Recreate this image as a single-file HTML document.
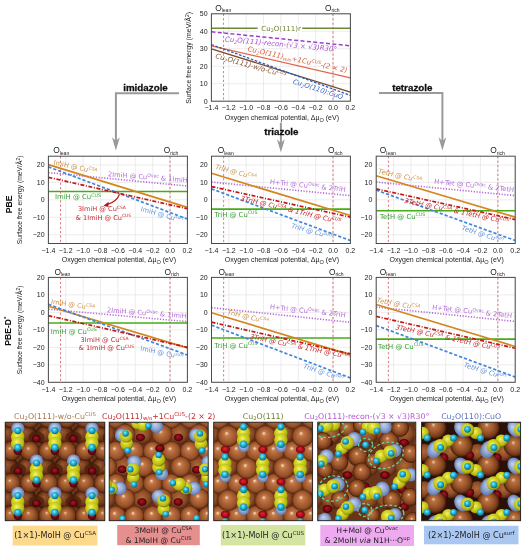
<!DOCTYPE html><html><head><meta charset="utf-8"><style>html,body{margin:0;padding:0;background:#fff;width:525px;height:550px;overflow:hidden}svg{display:block}</style></head><body>
<svg width="525" height="550" viewBox="0 0 525 550">

<defs>
<radialGradient id="gCu" cx="0.5" cy="0.5" r="0.5" fx="0.42" fy="0.36">
 <stop offset="0" stop-color="#f8e2cc"/>
 <stop offset="0.09" stop-color="#e6b890"/>
 <stop offset="0.2" stop-color="#c47c4a"/>
 <stop offset="0.42" stop-color="#b4683c"/>
 <stop offset="0.78" stop-color="#965228"/>
 <stop offset="0.93" stop-color="#703618"/>
 <stop offset="1" stop-color="#4a200e"/>
</radialGradient>
<radialGradient id="gCuD" cx="0.5" cy="0.5" r="0.5" fx="0.42" fy="0.36">
 <stop offset="0" stop-color="#f2d6bc"/>
 <stop offset="0.08" stop-color="#d8a47c"/>
 <stop offset="0.2" stop-color="#b8703e"/>
 <stop offset="0.5" stop-color="#a05a2e"/>
 <stop offset="0.82" stop-color="#783c1a"/>
 <stop offset="1" stop-color="#40180a"/>
</radialGradient>
<radialGradient id="gCu3" cx="0.5" cy="0.5" r="0.5" fx="0.42" fy="0.36">
 <stop offset="0" stop-color="#9a5a30"/>
 <stop offset="0.6" stop-color="#6e3418"/>
 <stop offset="1" stop-color="#2e1206"/>
</radialGradient>
<radialGradient id="gOb" cx="0.5" cy="0.5" r="0.5" fx="0.42" fy="0.35">
 <stop offset="0" stop-color="#e02838"/>
 <stop offset="0.55" stop-color="#b80e1c"/>
 <stop offset="1" stop-color="#6a040c"/>
</radialGradient>
<radialGradient id="gO" cx="0.5" cy="0.5" r="0.5" fx="0.42" fy="0.35">
 <stop offset="0" stop-color="#b41424"/>
 <stop offset="0.5" stop-color="#860a16"/>
 <stop offset="1" stop-color="#3a0206"/>
</radialGradient>
<radialGradient id="gY" cx="0.42" cy="0.38" r="0.62">
 <stop offset="0" stop-color="#f4f47a"/>
 <stop offset="0.3" stop-color="#dcdc2c"/>
 <stop offset="0.8" stop-color="#b4b414"/>
 <stop offset="1" stop-color="#7a7a0a"/>
</radialGradient>
<radialGradient id="gC" cx="0.42" cy="0.38" r="0.62">
 <stop offset="0" stop-color="#90ecfa"/>
 <stop offset="0.4" stop-color="#26bce0"/>
 <stop offset="1" stop-color="#0a6a8a"/>
</radialGradient>
<radialGradient id="gB" cx="0.5" cy="0.5" r="0.5" fx="0.4" fy="0.33">
 <stop offset="0" stop-color="#c4d2ee"/>
 <stop offset="0.55" stop-color="#96acd8"/>
 <stop offset="1" stop-color="#6078a8"/>
</radialGradient>
<radialGradient id="gCu2" cx="0.45" cy="0.42" r="0.6">
 <stop offset="0" stop-color="#b06a3a"/>
 <stop offset="0.6" stop-color="#8a4a24"/>
 <stop offset="1" stop-color="#4a2210"/>
</radialGradient>
</defs>
<rect width="525" height="550" fill="#fff"/>
<line x1="211.40" y1="13.80" x2="211.40" y2="101.20" stroke="#e4e4e4" stroke-width="0.7"/>
<line x1="228.78" y1="13.80" x2="228.78" y2="101.20" stroke="#e4e4e4" stroke-width="0.7"/>
<line x1="246.15" y1="13.80" x2="246.15" y2="101.20" stroke="#e4e4e4" stroke-width="0.7"/>
<line x1="263.52" y1="13.80" x2="263.52" y2="101.20" stroke="#e4e4e4" stroke-width="0.7"/>
<line x1="280.90" y1="13.80" x2="280.90" y2="101.20" stroke="#e4e4e4" stroke-width="0.7"/>
<line x1="298.27" y1="13.80" x2="298.27" y2="101.20" stroke="#e4e4e4" stroke-width="0.7"/>
<line x1="315.65" y1="13.80" x2="315.65" y2="101.20" stroke="#e4e4e4" stroke-width="0.7"/>
<line x1="333.02" y1="13.80" x2="333.02" y2="101.20" stroke="#e4e4e4" stroke-width="0.7"/>
<line x1="350.40" y1="13.80" x2="350.40" y2="101.20" stroke="#e4e4e4" stroke-width="0.7"/>
<line x1="211.40" y1="101.20" x2="350.40" y2="101.20" stroke="#e4e4e4" stroke-width="0.7"/>
<line x1="211.40" y1="83.72" x2="350.40" y2="83.72" stroke="#e4e4e4" stroke-width="0.7"/>
<line x1="211.40" y1="66.24" x2="350.40" y2="66.24" stroke="#e4e4e4" stroke-width="0.7"/>
<line x1="211.40" y1="48.76" x2="350.40" y2="48.76" stroke="#e4e4e4" stroke-width="0.7"/>
<line x1="211.40" y1="31.28" x2="350.40" y2="31.28" stroke="#e4e4e4" stroke-width="0.7"/>
<line x1="211.40" y1="13.80" x2="350.40" y2="13.80" stroke="#e4e4e4" stroke-width="0.7"/>
<line x1="223.56" y1="13.80" x2="223.56" y2="101.20" stroke="#d4505a" stroke-width="0.8" stroke-dasharray="2.2 2.2"/>
<line x1="333.02" y1="13.80" x2="333.02" y2="101.20" stroke="#d4505a" stroke-width="0.8" stroke-dasharray="2.2 2.2"/>
<line x1="211.40" y1="28.31" x2="350.40" y2="28.31" stroke="#6e8a34" stroke-width="1.6" stroke-linecap="butt"/>
<rect x="257.6" y="24" width="44.6" height="8" fill="#fff"/>
<line x1="211.40" y1="31.80" x2="350.40" y2="45.79" stroke="#9a3ed0" stroke-width="1.5" stroke-dasharray="4 2.4" stroke-linecap="butt"/>
<line x1="211.40" y1="45.79" x2="350.40" y2="77.78" stroke="#e0684a" stroke-width="1.3" stroke-linecap="butt"/>
<line x1="211.40" y1="48.93" x2="350.40" y2="92.11" stroke="#7a4a2a" stroke-width="1.3" stroke-linecap="butt"/>
<line x1="211.40" y1="44.56" x2="350.40" y2="95.43" stroke="#2a5ec0" stroke-width="1.3" stroke-dasharray="2.6 1.6" stroke-linecap="butt"/>
<rect x="211.40" y="13.80" width="139.00" height="87.40" fill="none" stroke="#4a4a4a" stroke-width="1"/>
<text x="211.40" y="110.40" text-anchor="middle" style="font-family:'Liberation Sans',Arial,sans-serif;font-size:7px" fill="#222">−1.4</text>
<text x="228.78" y="110.40" text-anchor="middle" style="font-family:'Liberation Sans',Arial,sans-serif;font-size:7px" fill="#222">−1.2</text>
<text x="246.15" y="110.40" text-anchor="middle" style="font-family:'Liberation Sans',Arial,sans-serif;font-size:7px" fill="#222">−1.0</text>
<text x="263.52" y="110.40" text-anchor="middle" style="font-family:'Liberation Sans',Arial,sans-serif;font-size:7px" fill="#222">−0.8</text>
<text x="280.90" y="110.40" text-anchor="middle" style="font-family:'Liberation Sans',Arial,sans-serif;font-size:7px" fill="#222">−0.6</text>
<text x="298.27" y="110.40" text-anchor="middle" style="font-family:'Liberation Sans',Arial,sans-serif;font-size:7px" fill="#222">−0.4</text>
<text x="315.65" y="110.40" text-anchor="middle" style="font-family:'Liberation Sans',Arial,sans-serif;font-size:7px" fill="#222">−0.2</text>
<text x="333.02" y="110.40" text-anchor="middle" style="font-family:'Liberation Sans',Arial,sans-serif;font-size:7px" fill="#222">0.0</text>
<text x="350.40" y="110.40" text-anchor="middle" style="font-family:'Liberation Sans',Arial,sans-serif;font-size:7px" fill="#222">0.2</text>
<text x="207.60" y="103.70" text-anchor="end" style="font-family:'Liberation Sans',Arial,sans-serif;font-size:7px" fill="#222">0</text>
<text x="207.60" y="86.22" text-anchor="end" style="font-family:'Liberation Sans',Arial,sans-serif;font-size:7px" fill="#222">10</text>
<text x="207.60" y="68.74" text-anchor="end" style="font-family:'Liberation Sans',Arial,sans-serif;font-size:7px" fill="#222">20</text>
<text x="207.60" y="51.26" text-anchor="end" style="font-family:'Liberation Sans',Arial,sans-serif;font-size:7px" fill="#222">30</text>
<text x="207.60" y="33.78" text-anchor="end" style="font-family:'Liberation Sans',Arial,sans-serif;font-size:7px" fill="#222">40</text>
<text x="207.60" y="16.30" text-anchor="end" style="font-family:'Liberation Sans',Arial,sans-serif;font-size:7px" fill="#222">50</text>
<text x="281.90" y="119.70" text-anchor="middle" style="font-family:'Liberation Sans',Arial,sans-serif;font-size:7px" fill="#222">Oxygen chemical potential, Δμ<tspan dy="2.2" style="font-size:5.6px">O</tspan><tspan dy="-2.2"> (eV)</tspan></text>
<text x="215.21" y="11.00" style="font-family:'Liberation Sans',Arial,sans-serif;font-size:8.4px" fill="#222">O<tspan dy="1.2" style="font-size:5px">lean</tspan></text>
<text x="324.97" y="11.00" style="font-family:'Liberation Sans',Arial,sans-serif;font-size:8.4px" fill="#222">O<tspan dy="1.2" style="font-size:5px">rich</tspan></text>
<text transform="translate(191.10,57.90) rotate(-90)" text-anchor="middle" style="font-family:'Liberation Sans',Arial,sans-serif;font-size:7.0px" fill="#222">Surface free energy (meV/Å<tspan dy="-2.5" style="font-size:5px">2</tspan><tspan dy="2.5">)</tspan></text>
<line x1="48.40" y1="156.20" x2="48.40" y2="243.50" stroke="#e4e4e4" stroke-width="0.7"/>
<line x1="65.77" y1="156.20" x2="65.77" y2="243.50" stroke="#e4e4e4" stroke-width="0.7"/>
<line x1="83.15" y1="156.20" x2="83.15" y2="243.50" stroke="#e4e4e4" stroke-width="0.7"/>
<line x1="100.52" y1="156.20" x2="100.52" y2="243.50" stroke="#e4e4e4" stroke-width="0.7"/>
<line x1="117.90" y1="156.20" x2="117.90" y2="243.50" stroke="#e4e4e4" stroke-width="0.7"/>
<line x1="135.28" y1="156.20" x2="135.28" y2="243.50" stroke="#e4e4e4" stroke-width="0.7"/>
<line x1="152.65" y1="156.20" x2="152.65" y2="243.50" stroke="#e4e4e4" stroke-width="0.7"/>
<line x1="170.03" y1="156.20" x2="170.03" y2="243.50" stroke="#e4e4e4" stroke-width="0.7"/>
<line x1="187.40" y1="156.20" x2="187.40" y2="243.50" stroke="#e4e4e4" stroke-width="0.7"/>
<line x1="48.40" y1="234.77" x2="187.40" y2="234.77" stroke="#e4e4e4" stroke-width="0.7"/>
<line x1="48.40" y1="217.31" x2="187.40" y2="217.31" stroke="#e4e4e4" stroke-width="0.7"/>
<line x1="48.40" y1="199.85" x2="187.40" y2="199.85" stroke="#e4e4e4" stroke-width="0.7"/>
<line x1="48.40" y1="182.39" x2="187.40" y2="182.39" stroke="#e4e4e4" stroke-width="0.7"/>
<line x1="48.40" y1="164.93" x2="187.40" y2="164.93" stroke="#e4e4e4" stroke-width="0.7"/>
<line x1="60.56" y1="156.20" x2="60.56" y2="243.50" stroke="#d4505a" stroke-width="0.8" stroke-dasharray="2.2 2.2"/>
<line x1="170.03" y1="156.20" x2="170.03" y2="243.50" stroke="#d4505a" stroke-width="0.8" stroke-dasharray="2.2 2.2"/>
<line x1="48.40" y1="191.47" x2="187.40" y2="191.47" stroke="#44ac14" stroke-width="1.6" stroke-linecap="butt"/>
<line x1="48.40" y1="172.61" x2="187.40" y2="186.06" stroke="#b566dd" stroke-width="1.6" stroke-dasharray="1.2 1.6" stroke-linecap="butt"/>
<line x1="48.40" y1="164.58" x2="187.40" y2="207.36" stroke="#d4861e" stroke-width="1.7" stroke-linecap="butt"/>
<line x1="48.40" y1="166.85" x2="187.40" y2="219.06" stroke="#3f86dd" stroke-width="1.7" stroke-dasharray="3.2 2" stroke-linecap="butt"/>
<line x1="48.40" y1="177.33" x2="187.40" y2="208.75" stroke="#c41616" stroke-width="1.7" stroke-dasharray="4 1.6 1 1.6" stroke-linecap="butt"/>
<rect x="48.40" y="156.20" width="139.00" height="87.30" fill="none" stroke="#4a4a4a" stroke-width="1"/>
<text x="48.40" y="252.70" text-anchor="middle" style="font-family:'Liberation Sans',Arial,sans-serif;font-size:7px" fill="#222">−1.4</text>
<text x="65.77" y="252.70" text-anchor="middle" style="font-family:'Liberation Sans',Arial,sans-serif;font-size:7px" fill="#222">−1.2</text>
<text x="83.15" y="252.70" text-anchor="middle" style="font-family:'Liberation Sans',Arial,sans-serif;font-size:7px" fill="#222">−1.0</text>
<text x="100.52" y="252.70" text-anchor="middle" style="font-family:'Liberation Sans',Arial,sans-serif;font-size:7px" fill="#222">−0.8</text>
<text x="117.90" y="252.70" text-anchor="middle" style="font-family:'Liberation Sans',Arial,sans-serif;font-size:7px" fill="#222">−0.6</text>
<text x="135.28" y="252.70" text-anchor="middle" style="font-family:'Liberation Sans',Arial,sans-serif;font-size:7px" fill="#222">−0.4</text>
<text x="152.65" y="252.70" text-anchor="middle" style="font-family:'Liberation Sans',Arial,sans-serif;font-size:7px" fill="#222">−0.2</text>
<text x="170.03" y="252.70" text-anchor="middle" style="font-family:'Liberation Sans',Arial,sans-serif;font-size:7px" fill="#222">0.0</text>
<text x="187.40" y="252.70" text-anchor="middle" style="font-family:'Liberation Sans',Arial,sans-serif;font-size:7px" fill="#222">0.2</text>
<text x="44.60" y="237.27" text-anchor="end" style="font-family:'Liberation Sans',Arial,sans-serif;font-size:7px" fill="#222">−20</text>
<text x="44.60" y="219.81" text-anchor="end" style="font-family:'Liberation Sans',Arial,sans-serif;font-size:7px" fill="#222">−10</text>
<text x="44.60" y="202.35" text-anchor="end" style="font-family:'Liberation Sans',Arial,sans-serif;font-size:7px" fill="#222">0</text>
<text x="44.60" y="184.89" text-anchor="end" style="font-family:'Liberation Sans',Arial,sans-serif;font-size:7px" fill="#222">10</text>
<text x="44.60" y="167.43" text-anchor="end" style="font-family:'Liberation Sans',Arial,sans-serif;font-size:7px" fill="#222">20</text>
<text x="118.90" y="262.00" text-anchor="middle" style="font-family:'Liberation Sans',Arial,sans-serif;font-size:7px" fill="#222">Oxygen chemical potential, Δμ<tspan dy="2.2" style="font-size:5.6px">O</tspan><tspan dy="-2.2"> (eV)</tspan></text>
<text x="53.21" y="153.40" style="font-family:'Liberation Sans',Arial,sans-serif;font-size:8.4px" fill="#222">O<tspan dy="1.2" style="font-size:5px">lean</tspan></text>
<text x="163.68" y="153.40" style="font-family:'Liberation Sans',Arial,sans-serif;font-size:8.4px" fill="#222">O<tspan dy="1.2" style="font-size:5px">rich</tspan></text>
<line x1="211.50" y1="156.20" x2="211.50" y2="243.50" stroke="#e4e4e4" stroke-width="0.7"/>
<line x1="228.86" y1="156.20" x2="228.86" y2="243.50" stroke="#e4e4e4" stroke-width="0.7"/>
<line x1="246.22" y1="156.20" x2="246.22" y2="243.50" stroke="#e4e4e4" stroke-width="0.7"/>
<line x1="263.59" y1="156.20" x2="263.59" y2="243.50" stroke="#e4e4e4" stroke-width="0.7"/>
<line x1="280.95" y1="156.20" x2="280.95" y2="243.50" stroke="#e4e4e4" stroke-width="0.7"/>
<line x1="298.31" y1="156.20" x2="298.31" y2="243.50" stroke="#e4e4e4" stroke-width="0.7"/>
<line x1="315.67" y1="156.20" x2="315.67" y2="243.50" stroke="#e4e4e4" stroke-width="0.7"/>
<line x1="333.04" y1="156.20" x2="333.04" y2="243.50" stroke="#e4e4e4" stroke-width="0.7"/>
<line x1="350.40" y1="156.20" x2="350.40" y2="243.50" stroke="#e4e4e4" stroke-width="0.7"/>
<line x1="211.50" y1="234.77" x2="350.40" y2="234.77" stroke="#e4e4e4" stroke-width="0.7"/>
<line x1="211.50" y1="217.31" x2="350.40" y2="217.31" stroke="#e4e4e4" stroke-width="0.7"/>
<line x1="211.50" y1="199.85" x2="350.40" y2="199.85" stroke="#e4e4e4" stroke-width="0.7"/>
<line x1="211.50" y1="182.39" x2="350.40" y2="182.39" stroke="#e4e4e4" stroke-width="0.7"/>
<line x1="211.50" y1="164.93" x2="350.40" y2="164.93" stroke="#e4e4e4" stroke-width="0.7"/>
<line x1="223.65" y1="156.20" x2="223.65" y2="243.50" stroke="#d4505a" stroke-width="0.8" stroke-dasharray="2.2 2.2"/>
<line x1="333.04" y1="156.20" x2="333.04" y2="243.50" stroke="#d4505a" stroke-width="0.8" stroke-dasharray="2.2 2.2"/>
<line x1="211.50" y1="209.10" x2="350.40" y2="209.10" stroke="#44ac14" stroke-width="1.6" stroke-linecap="butt"/>
<line x1="211.50" y1="182.04" x2="350.40" y2="195.66" stroke="#b566dd" stroke-width="1.6" stroke-dasharray="1.2 1.6" stroke-linecap="butt"/>
<line x1="211.50" y1="173.31" x2="350.40" y2="215.56" stroke="#d4861e" stroke-width="1.7" stroke-linecap="butt"/>
<line x1="211.50" y1="188.85" x2="350.40" y2="240.53" stroke="#3f86dd" stroke-width="1.7" stroke-dasharray="3.2 2" stroke-linecap="butt"/>
<line x1="211.50" y1="186.58" x2="350.40" y2="217.14" stroke="#c41616" stroke-width="1.7" stroke-dasharray="4 1.6 1 1.6" stroke-linecap="butt"/>
<rect x="211.50" y="156.20" width="138.90" height="87.30" fill="none" stroke="#4a4a4a" stroke-width="1"/>
<text x="211.50" y="252.70" text-anchor="middle" style="font-family:'Liberation Sans',Arial,sans-serif;font-size:7px" fill="#222">−1.4</text>
<text x="228.86" y="252.70" text-anchor="middle" style="font-family:'Liberation Sans',Arial,sans-serif;font-size:7px" fill="#222">−1.2</text>
<text x="246.22" y="252.70" text-anchor="middle" style="font-family:'Liberation Sans',Arial,sans-serif;font-size:7px" fill="#222">−1.0</text>
<text x="263.59" y="252.70" text-anchor="middle" style="font-family:'Liberation Sans',Arial,sans-serif;font-size:7px" fill="#222">−0.8</text>
<text x="280.95" y="252.70" text-anchor="middle" style="font-family:'Liberation Sans',Arial,sans-serif;font-size:7px" fill="#222">−0.6</text>
<text x="298.31" y="252.70" text-anchor="middle" style="font-family:'Liberation Sans',Arial,sans-serif;font-size:7px" fill="#222">−0.4</text>
<text x="315.67" y="252.70" text-anchor="middle" style="font-family:'Liberation Sans',Arial,sans-serif;font-size:7px" fill="#222">−0.2</text>
<text x="333.04" y="252.70" text-anchor="middle" style="font-family:'Liberation Sans',Arial,sans-serif;font-size:7px" fill="#222">0.0</text>
<text x="350.40" y="252.70" text-anchor="middle" style="font-family:'Liberation Sans',Arial,sans-serif;font-size:7px" fill="#222">0.2</text>
<text x="207.70" y="237.27" text-anchor="end" style="font-family:'Liberation Sans',Arial,sans-serif;font-size:7px" fill="#222">−20</text>
<text x="207.70" y="219.81" text-anchor="end" style="font-family:'Liberation Sans',Arial,sans-serif;font-size:7px" fill="#222">−10</text>
<text x="207.70" y="202.35" text-anchor="end" style="font-family:'Liberation Sans',Arial,sans-serif;font-size:7px" fill="#222">0</text>
<text x="207.70" y="184.89" text-anchor="end" style="font-family:'Liberation Sans',Arial,sans-serif;font-size:7px" fill="#222">10</text>
<text x="207.70" y="167.43" text-anchor="end" style="font-family:'Liberation Sans',Arial,sans-serif;font-size:7px" fill="#222">20</text>
<text x="281.95" y="262.00" text-anchor="middle" style="font-family:'Liberation Sans',Arial,sans-serif;font-size:7px" fill="#222">Oxygen chemical potential, Δμ<tspan dy="2.2" style="font-size:5.6px">O</tspan><tspan dy="-2.2"> (eV)</tspan></text>
<text x="217.70" y="153.40" style="font-family:'Liberation Sans',Arial,sans-serif;font-size:8.4px" fill="#222">O<tspan dy="1.2" style="font-size:5px">lean</tspan></text>
<text x="327.89" y="153.40" style="font-family:'Liberation Sans',Arial,sans-serif;font-size:8.4px" fill="#222">O<tspan dy="1.2" style="font-size:5px">rich</tspan></text>
<line x1="376.20" y1="156.20" x2="376.20" y2="243.50" stroke="#e4e4e4" stroke-width="0.7"/>
<line x1="393.57" y1="156.20" x2="393.57" y2="243.50" stroke="#e4e4e4" stroke-width="0.7"/>
<line x1="410.95" y1="156.20" x2="410.95" y2="243.50" stroke="#e4e4e4" stroke-width="0.7"/>
<line x1="428.32" y1="156.20" x2="428.32" y2="243.50" stroke="#e4e4e4" stroke-width="0.7"/>
<line x1="445.70" y1="156.20" x2="445.70" y2="243.50" stroke="#e4e4e4" stroke-width="0.7"/>
<line x1="463.08" y1="156.20" x2="463.08" y2="243.50" stroke="#e4e4e4" stroke-width="0.7"/>
<line x1="480.45" y1="156.20" x2="480.45" y2="243.50" stroke="#e4e4e4" stroke-width="0.7"/>
<line x1="497.83" y1="156.20" x2="497.83" y2="243.50" stroke="#e4e4e4" stroke-width="0.7"/>
<line x1="515.20" y1="156.20" x2="515.20" y2="243.50" stroke="#e4e4e4" stroke-width="0.7"/>
<line x1="376.20" y1="234.77" x2="515.20" y2="234.77" stroke="#e4e4e4" stroke-width="0.7"/>
<line x1="376.20" y1="217.31" x2="515.20" y2="217.31" stroke="#e4e4e4" stroke-width="0.7"/>
<line x1="376.20" y1="199.85" x2="515.20" y2="199.85" stroke="#e4e4e4" stroke-width="0.7"/>
<line x1="376.20" y1="182.39" x2="515.20" y2="182.39" stroke="#e4e4e4" stroke-width="0.7"/>
<line x1="376.20" y1="164.93" x2="515.20" y2="164.93" stroke="#e4e4e4" stroke-width="0.7"/>
<line x1="388.36" y1="156.20" x2="388.36" y2="243.50" stroke="#d4505a" stroke-width="0.8" stroke-dasharray="2.2 2.2"/>
<line x1="497.83" y1="156.20" x2="497.83" y2="243.50" stroke="#d4505a" stroke-width="0.8" stroke-dasharray="2.2 2.2"/>
<line x1="376.20" y1="210.68" x2="515.20" y2="210.68" stroke="#44ac14" stroke-width="1.6" stroke-linecap="butt"/>
<line x1="376.20" y1="182.04" x2="515.20" y2="195.66" stroke="#b566dd" stroke-width="1.6" stroke-dasharray="1.2 1.6" stroke-linecap="butt"/>
<line x1="376.20" y1="175.76" x2="515.20" y2="217.14" stroke="#d4861e" stroke-width="1.7" stroke-linecap="butt"/>
<line x1="376.20" y1="190.07" x2="515.20" y2="240.53" stroke="#3f86dd" stroke-width="1.7" stroke-dasharray="3.2 2" stroke-linecap="butt"/>
<line x1="376.20" y1="188.85" x2="515.20" y2="219.58" stroke="#c41616" stroke-width="1.7" stroke-dasharray="4 1.6 1 1.6" stroke-linecap="butt"/>
<rect x="376.20" y="156.20" width="139.00" height="87.30" fill="none" stroke="#4a4a4a" stroke-width="1"/>
<text x="376.20" y="252.70" text-anchor="middle" style="font-family:'Liberation Sans',Arial,sans-serif;font-size:7px" fill="#222">−1.4</text>
<text x="393.57" y="252.70" text-anchor="middle" style="font-family:'Liberation Sans',Arial,sans-serif;font-size:7px" fill="#222">−1.2</text>
<text x="410.95" y="252.70" text-anchor="middle" style="font-family:'Liberation Sans',Arial,sans-serif;font-size:7px" fill="#222">−1.0</text>
<text x="428.32" y="252.70" text-anchor="middle" style="font-family:'Liberation Sans',Arial,sans-serif;font-size:7px" fill="#222">−0.8</text>
<text x="445.70" y="252.70" text-anchor="middle" style="font-family:'Liberation Sans',Arial,sans-serif;font-size:7px" fill="#222">−0.6</text>
<text x="463.08" y="252.70" text-anchor="middle" style="font-family:'Liberation Sans',Arial,sans-serif;font-size:7px" fill="#222">−0.4</text>
<text x="480.45" y="252.70" text-anchor="middle" style="font-family:'Liberation Sans',Arial,sans-serif;font-size:7px" fill="#222">−0.2</text>
<text x="497.83" y="252.70" text-anchor="middle" style="font-family:'Liberation Sans',Arial,sans-serif;font-size:7px" fill="#222">0.0</text>
<text x="515.20" y="252.70" text-anchor="middle" style="font-family:'Liberation Sans',Arial,sans-serif;font-size:7px" fill="#222">0.2</text>
<text x="372.40" y="237.27" text-anchor="end" style="font-family:'Liberation Sans',Arial,sans-serif;font-size:7px" fill="#222">−20</text>
<text x="372.40" y="219.81" text-anchor="end" style="font-family:'Liberation Sans',Arial,sans-serif;font-size:7px" fill="#222">−10</text>
<text x="372.40" y="202.35" text-anchor="end" style="font-family:'Liberation Sans',Arial,sans-serif;font-size:7px" fill="#222">0</text>
<text x="372.40" y="184.89" text-anchor="end" style="font-family:'Liberation Sans',Arial,sans-serif;font-size:7px" fill="#222">10</text>
<text x="372.40" y="167.43" text-anchor="end" style="font-family:'Liberation Sans',Arial,sans-serif;font-size:7px" fill="#222">20</text>
<text x="446.70" y="262.00" text-anchor="middle" style="font-family:'Liberation Sans',Arial,sans-serif;font-size:7px" fill="#222">Oxygen chemical potential, Δμ<tspan dy="2.2" style="font-size:5.6px">O</tspan><tspan dy="-2.2"> (eV)</tspan></text>
<text x="379.81" y="153.40" style="font-family:'Liberation Sans',Arial,sans-serif;font-size:8.4px" fill="#222">O<tspan dy="1.2" style="font-size:5px">lean</tspan></text>
<text x="490.28" y="153.40" style="font-family:'Liberation Sans',Arial,sans-serif;font-size:8.4px" fill="#222">O<tspan dy="1.2" style="font-size:5px">rich</tspan></text>
<text transform="translate(22.20,199.85) rotate(-90)" text-anchor="middle" style="font-family:'Liberation Sans',Arial,sans-serif;font-size:6.75px" fill="#222">Surface free energy (meV/Å<tspan dy="-2.5" style="font-size:5px">2</tspan><tspan dy="2.5">)</tspan></text>
<line x1="48.40" y1="277.40" x2="48.40" y2="382.30" stroke="#e4e4e4" stroke-width="0.7"/>
<line x1="65.77" y1="277.40" x2="65.77" y2="382.30" stroke="#e4e4e4" stroke-width="0.7"/>
<line x1="83.15" y1="277.40" x2="83.15" y2="382.30" stroke="#e4e4e4" stroke-width="0.7"/>
<line x1="100.52" y1="277.40" x2="100.52" y2="382.30" stroke="#e4e4e4" stroke-width="0.7"/>
<line x1="117.90" y1="277.40" x2="117.90" y2="382.30" stroke="#e4e4e4" stroke-width="0.7"/>
<line x1="135.28" y1="277.40" x2="135.28" y2="382.30" stroke="#e4e4e4" stroke-width="0.7"/>
<line x1="152.65" y1="277.40" x2="152.65" y2="382.30" stroke="#e4e4e4" stroke-width="0.7"/>
<line x1="170.03" y1="277.40" x2="170.03" y2="382.30" stroke="#e4e4e4" stroke-width="0.7"/>
<line x1="187.40" y1="277.40" x2="187.40" y2="382.30" stroke="#e4e4e4" stroke-width="0.7"/>
<line x1="48.40" y1="382.30" x2="187.40" y2="382.30" stroke="#e4e4e4" stroke-width="0.7"/>
<line x1="48.40" y1="364.82" x2="187.40" y2="364.82" stroke="#e4e4e4" stroke-width="0.7"/>
<line x1="48.40" y1="347.33" x2="187.40" y2="347.33" stroke="#e4e4e4" stroke-width="0.7"/>
<line x1="48.40" y1="329.85" x2="187.40" y2="329.85" stroke="#e4e4e4" stroke-width="0.7"/>
<line x1="48.40" y1="312.37" x2="187.40" y2="312.37" stroke="#e4e4e4" stroke-width="0.7"/>
<line x1="48.40" y1="294.88" x2="187.40" y2="294.88" stroke="#e4e4e4" stroke-width="0.7"/>
<line x1="48.40" y1="277.40" x2="187.40" y2="277.40" stroke="#e4e4e4" stroke-width="0.7"/>
<line x1="60.56" y1="277.40" x2="60.56" y2="382.30" stroke="#d4505a" stroke-width="0.8" stroke-dasharray="2.2 2.2"/>
<line x1="170.03" y1="277.40" x2="170.03" y2="382.30" stroke="#d4505a" stroke-width="0.8" stroke-dasharray="2.2 2.2"/>
<line x1="48.40" y1="323.03" x2="187.40" y2="323.03" stroke="#44ac14" stroke-width="1.6" stroke-linecap="butt"/>
<line x1="48.40" y1="309.22" x2="187.40" y2="321.63" stroke="#b566dd" stroke-width="1.6" stroke-dasharray="1.2 1.6" stroke-linecap="butt"/>
<line x1="48.40" y1="306.25" x2="187.40" y2="347.86" stroke="#d4861e" stroke-width="1.7" stroke-linecap="butt"/>
<line x1="48.40" y1="304.32" x2="187.40" y2="355.03" stroke="#3f86dd" stroke-width="1.7" stroke-dasharray="3.2 2" stroke-linecap="butt"/>
<line x1="48.40" y1="315.69" x2="187.40" y2="347.33" stroke="#c41616" stroke-width="1.7" stroke-dasharray="4 1.6 1 1.6" stroke-linecap="butt"/>
<rect x="48.40" y="277.40" width="139.00" height="104.90" fill="none" stroke="#4a4a4a" stroke-width="1"/>
<text x="48.40" y="391.50" text-anchor="middle" style="font-family:'Liberation Sans',Arial,sans-serif;font-size:7px" fill="#222">−1.4</text>
<text x="65.77" y="391.50" text-anchor="middle" style="font-family:'Liberation Sans',Arial,sans-serif;font-size:7px" fill="#222">−1.2</text>
<text x="83.15" y="391.50" text-anchor="middle" style="font-family:'Liberation Sans',Arial,sans-serif;font-size:7px" fill="#222">−1.0</text>
<text x="100.52" y="391.50" text-anchor="middle" style="font-family:'Liberation Sans',Arial,sans-serif;font-size:7px" fill="#222">−0.8</text>
<text x="117.90" y="391.50" text-anchor="middle" style="font-family:'Liberation Sans',Arial,sans-serif;font-size:7px" fill="#222">−0.6</text>
<text x="135.28" y="391.50" text-anchor="middle" style="font-family:'Liberation Sans',Arial,sans-serif;font-size:7px" fill="#222">−0.4</text>
<text x="152.65" y="391.50" text-anchor="middle" style="font-family:'Liberation Sans',Arial,sans-serif;font-size:7px" fill="#222">−0.2</text>
<text x="170.03" y="391.50" text-anchor="middle" style="font-family:'Liberation Sans',Arial,sans-serif;font-size:7px" fill="#222">0.0</text>
<text x="187.40" y="391.50" text-anchor="middle" style="font-family:'Liberation Sans',Arial,sans-serif;font-size:7px" fill="#222">0.2</text>
<text x="44.60" y="384.80" text-anchor="end" style="font-family:'Liberation Sans',Arial,sans-serif;font-size:7px" fill="#222">−40</text>
<text x="44.60" y="367.32" text-anchor="end" style="font-family:'Liberation Sans',Arial,sans-serif;font-size:7px" fill="#222">−30</text>
<text x="44.60" y="349.83" text-anchor="end" style="font-family:'Liberation Sans',Arial,sans-serif;font-size:7px" fill="#222">−20</text>
<text x="44.60" y="332.35" text-anchor="end" style="font-family:'Liberation Sans',Arial,sans-serif;font-size:7px" fill="#222">−10</text>
<text x="44.60" y="314.87" text-anchor="end" style="font-family:'Liberation Sans',Arial,sans-serif;font-size:7px" fill="#222">0</text>
<text x="44.60" y="297.38" text-anchor="end" style="font-family:'Liberation Sans',Arial,sans-serif;font-size:7px" fill="#222">10</text>
<text x="44.60" y="279.90" text-anchor="end" style="font-family:'Liberation Sans',Arial,sans-serif;font-size:7px" fill="#222">20</text>
<text x="118.90" y="400.80" text-anchor="middle" style="font-family:'Liberation Sans',Arial,sans-serif;font-size:7px" fill="#222">Oxygen chemical potential, Δμ<tspan dy="2.2" style="font-size:5.6px">O</tspan><tspan dy="-2.2"> (eV)</tspan></text>
<text x="54.41" y="274.60" style="font-family:'Liberation Sans',Arial,sans-serif;font-size:8.4px" fill="#222">O<tspan dy="1.2" style="font-size:5px">lean</tspan></text>
<text x="164.58" y="274.60" style="font-family:'Liberation Sans',Arial,sans-serif;font-size:8.4px" fill="#222">O<tspan dy="1.2" style="font-size:5px">rich</tspan></text>
<line x1="211.50" y1="277.40" x2="211.50" y2="382.30" stroke="#e4e4e4" stroke-width="0.7"/>
<line x1="228.86" y1="277.40" x2="228.86" y2="382.30" stroke="#e4e4e4" stroke-width="0.7"/>
<line x1="246.22" y1="277.40" x2="246.22" y2="382.30" stroke="#e4e4e4" stroke-width="0.7"/>
<line x1="263.59" y1="277.40" x2="263.59" y2="382.30" stroke="#e4e4e4" stroke-width="0.7"/>
<line x1="280.95" y1="277.40" x2="280.95" y2="382.30" stroke="#e4e4e4" stroke-width="0.7"/>
<line x1="298.31" y1="277.40" x2="298.31" y2="382.30" stroke="#e4e4e4" stroke-width="0.7"/>
<line x1="315.67" y1="277.40" x2="315.67" y2="382.30" stroke="#e4e4e4" stroke-width="0.7"/>
<line x1="333.04" y1="277.40" x2="333.04" y2="382.30" stroke="#e4e4e4" stroke-width="0.7"/>
<line x1="350.40" y1="277.40" x2="350.40" y2="382.30" stroke="#e4e4e4" stroke-width="0.7"/>
<line x1="211.50" y1="382.30" x2="350.40" y2="382.30" stroke="#e4e4e4" stroke-width="0.7"/>
<line x1="211.50" y1="364.82" x2="350.40" y2="364.82" stroke="#e4e4e4" stroke-width="0.7"/>
<line x1="211.50" y1="347.33" x2="350.40" y2="347.33" stroke="#e4e4e4" stroke-width="0.7"/>
<line x1="211.50" y1="329.85" x2="350.40" y2="329.85" stroke="#e4e4e4" stroke-width="0.7"/>
<line x1="211.50" y1="312.37" x2="350.40" y2="312.37" stroke="#e4e4e4" stroke-width="0.7"/>
<line x1="211.50" y1="294.88" x2="350.40" y2="294.88" stroke="#e4e4e4" stroke-width="0.7"/>
<line x1="211.50" y1="277.40" x2="350.40" y2="277.40" stroke="#e4e4e4" stroke-width="0.7"/>
<line x1="223.65" y1="277.40" x2="223.65" y2="382.30" stroke="#d4505a" stroke-width="0.8" stroke-dasharray="2.2 2.2"/>
<line x1="333.04" y1="277.40" x2="333.04" y2="382.30" stroke="#d4505a" stroke-width="0.8" stroke-dasharray="2.2 2.2"/>
<line x1="211.50" y1="338.07" x2="350.40" y2="338.07" stroke="#44ac14" stroke-width="1.6" stroke-linecap="butt"/>
<line x1="211.50" y1="307.65" x2="350.40" y2="322.33" stroke="#b566dd" stroke-width="1.6" stroke-dasharray="1.2 1.6" stroke-linecap="butt"/>
<line x1="211.50" y1="312.72" x2="350.40" y2="354.85" stroke="#d4861e" stroke-width="1.7" stroke-linecap="butt"/>
<line x1="211.50" y1="325.13" x2="350.40" y2="377.93" stroke="#3f86dd" stroke-width="1.7" stroke-dasharray="3.2 2" stroke-linecap="butt"/>
<line x1="211.50" y1="322.16" x2="350.40" y2="353.80" stroke="#c41616" stroke-width="1.7" stroke-dasharray="4 1.6 1 1.6" stroke-linecap="butt"/>
<rect x="211.50" y="277.40" width="138.90" height="104.90" fill="none" stroke="#4a4a4a" stroke-width="1"/>
<text x="211.50" y="391.50" text-anchor="middle" style="font-family:'Liberation Sans',Arial,sans-serif;font-size:7px" fill="#222">−1.4</text>
<text x="228.86" y="391.50" text-anchor="middle" style="font-family:'Liberation Sans',Arial,sans-serif;font-size:7px" fill="#222">−1.2</text>
<text x="246.22" y="391.50" text-anchor="middle" style="font-family:'Liberation Sans',Arial,sans-serif;font-size:7px" fill="#222">−1.0</text>
<text x="263.59" y="391.50" text-anchor="middle" style="font-family:'Liberation Sans',Arial,sans-serif;font-size:7px" fill="#222">−0.8</text>
<text x="280.95" y="391.50" text-anchor="middle" style="font-family:'Liberation Sans',Arial,sans-serif;font-size:7px" fill="#222">−0.6</text>
<text x="298.31" y="391.50" text-anchor="middle" style="font-family:'Liberation Sans',Arial,sans-serif;font-size:7px" fill="#222">−0.4</text>
<text x="315.67" y="391.50" text-anchor="middle" style="font-family:'Liberation Sans',Arial,sans-serif;font-size:7px" fill="#222">−0.2</text>
<text x="333.04" y="391.50" text-anchor="middle" style="font-family:'Liberation Sans',Arial,sans-serif;font-size:7px" fill="#222">0.0</text>
<text x="350.40" y="391.50" text-anchor="middle" style="font-family:'Liberation Sans',Arial,sans-serif;font-size:7px" fill="#222">0.2</text>
<text x="207.70" y="384.80" text-anchor="end" style="font-family:'Liberation Sans',Arial,sans-serif;font-size:7px" fill="#222">−40</text>
<text x="207.70" y="367.32" text-anchor="end" style="font-family:'Liberation Sans',Arial,sans-serif;font-size:7px" fill="#222">−30</text>
<text x="207.70" y="349.83" text-anchor="end" style="font-family:'Liberation Sans',Arial,sans-serif;font-size:7px" fill="#222">−20</text>
<text x="207.70" y="332.35" text-anchor="end" style="font-family:'Liberation Sans',Arial,sans-serif;font-size:7px" fill="#222">−10</text>
<text x="207.70" y="314.87" text-anchor="end" style="font-family:'Liberation Sans',Arial,sans-serif;font-size:7px" fill="#222">0</text>
<text x="207.70" y="297.38" text-anchor="end" style="font-family:'Liberation Sans',Arial,sans-serif;font-size:7px" fill="#222">10</text>
<text x="207.70" y="279.90" text-anchor="end" style="font-family:'Liberation Sans',Arial,sans-serif;font-size:7px" fill="#222">20</text>
<text x="281.95" y="400.80" text-anchor="middle" style="font-family:'Liberation Sans',Arial,sans-serif;font-size:7px" fill="#222">Oxygen chemical potential, Δμ<tspan dy="2.2" style="font-size:5.6px">O</tspan><tspan dy="-2.2"> (eV)</tspan></text>
<text x="218.40" y="274.60" style="font-family:'Liberation Sans',Arial,sans-serif;font-size:8.4px" fill="#222">O<tspan dy="1.2" style="font-size:5px">lean</tspan></text>
<text x="328.89" y="274.60" style="font-family:'Liberation Sans',Arial,sans-serif;font-size:8.4px" fill="#222">O<tspan dy="1.2" style="font-size:5px">rich</tspan></text>
<line x1="376.20" y1="277.40" x2="376.20" y2="382.30" stroke="#e4e4e4" stroke-width="0.7"/>
<line x1="393.57" y1="277.40" x2="393.57" y2="382.30" stroke="#e4e4e4" stroke-width="0.7"/>
<line x1="410.95" y1="277.40" x2="410.95" y2="382.30" stroke="#e4e4e4" stroke-width="0.7"/>
<line x1="428.32" y1="277.40" x2="428.32" y2="382.30" stroke="#e4e4e4" stroke-width="0.7"/>
<line x1="445.70" y1="277.40" x2="445.70" y2="382.30" stroke="#e4e4e4" stroke-width="0.7"/>
<line x1="463.08" y1="277.40" x2="463.08" y2="382.30" stroke="#e4e4e4" stroke-width="0.7"/>
<line x1="480.45" y1="277.40" x2="480.45" y2="382.30" stroke="#e4e4e4" stroke-width="0.7"/>
<line x1="497.83" y1="277.40" x2="497.83" y2="382.30" stroke="#e4e4e4" stroke-width="0.7"/>
<line x1="515.20" y1="277.40" x2="515.20" y2="382.30" stroke="#e4e4e4" stroke-width="0.7"/>
<line x1="376.20" y1="382.30" x2="515.20" y2="382.30" stroke="#e4e4e4" stroke-width="0.7"/>
<line x1="376.20" y1="364.82" x2="515.20" y2="364.82" stroke="#e4e4e4" stroke-width="0.7"/>
<line x1="376.20" y1="347.33" x2="515.20" y2="347.33" stroke="#e4e4e4" stroke-width="0.7"/>
<line x1="376.20" y1="329.85" x2="515.20" y2="329.85" stroke="#e4e4e4" stroke-width="0.7"/>
<line x1="376.20" y1="312.37" x2="515.20" y2="312.37" stroke="#e4e4e4" stroke-width="0.7"/>
<line x1="376.20" y1="294.88" x2="515.20" y2="294.88" stroke="#e4e4e4" stroke-width="0.7"/>
<line x1="376.20" y1="277.40" x2="515.20" y2="277.40" stroke="#e4e4e4" stroke-width="0.7"/>
<line x1="388.36" y1="277.40" x2="388.36" y2="382.30" stroke="#d4505a" stroke-width="0.8" stroke-dasharray="2.2 2.2"/>
<line x1="497.83" y1="277.40" x2="497.83" y2="382.30" stroke="#d4505a" stroke-width="0.8" stroke-dasharray="2.2 2.2"/>
<line x1="376.20" y1="339.12" x2="515.20" y2="339.12" stroke="#44ac14" stroke-width="1.6" stroke-linecap="butt"/>
<line x1="376.20" y1="307.12" x2="515.20" y2="321.46" stroke="#b566dd" stroke-width="1.6" stroke-dasharray="1.2 1.6" stroke-linecap="butt"/>
<line x1="376.20" y1="304.50" x2="515.20" y2="346.46" stroke="#d4861e" stroke-width="1.7" stroke-linecap="butt"/>
<line x1="376.20" y1="325.48" x2="515.20" y2="377.06" stroke="#3f86dd" stroke-width="1.7" stroke-dasharray="3.2 2" stroke-linecap="butt"/>
<line x1="376.20" y1="316.39" x2="515.20" y2="348.21" stroke="#c41616" stroke-width="1.7" stroke-dasharray="4 1.6 1 1.6" stroke-linecap="butt"/>
<rect x="376.20" y="277.40" width="139.00" height="104.90" fill="none" stroke="#4a4a4a" stroke-width="1"/>
<text x="376.20" y="391.50" text-anchor="middle" style="font-family:'Liberation Sans',Arial,sans-serif;font-size:7px" fill="#222">−1.4</text>
<text x="393.57" y="391.50" text-anchor="middle" style="font-family:'Liberation Sans',Arial,sans-serif;font-size:7px" fill="#222">−1.2</text>
<text x="410.95" y="391.50" text-anchor="middle" style="font-family:'Liberation Sans',Arial,sans-serif;font-size:7px" fill="#222">−1.0</text>
<text x="428.32" y="391.50" text-anchor="middle" style="font-family:'Liberation Sans',Arial,sans-serif;font-size:7px" fill="#222">−0.8</text>
<text x="445.70" y="391.50" text-anchor="middle" style="font-family:'Liberation Sans',Arial,sans-serif;font-size:7px" fill="#222">−0.6</text>
<text x="463.08" y="391.50" text-anchor="middle" style="font-family:'Liberation Sans',Arial,sans-serif;font-size:7px" fill="#222">−0.4</text>
<text x="480.45" y="391.50" text-anchor="middle" style="font-family:'Liberation Sans',Arial,sans-serif;font-size:7px" fill="#222">−0.2</text>
<text x="497.83" y="391.50" text-anchor="middle" style="font-family:'Liberation Sans',Arial,sans-serif;font-size:7px" fill="#222">0.0</text>
<text x="515.20" y="391.50" text-anchor="middle" style="font-family:'Liberation Sans',Arial,sans-serif;font-size:7px" fill="#222">0.2</text>
<text x="372.40" y="384.80" text-anchor="end" style="font-family:'Liberation Sans',Arial,sans-serif;font-size:7px" fill="#222">−40</text>
<text x="372.40" y="367.32" text-anchor="end" style="font-family:'Liberation Sans',Arial,sans-serif;font-size:7px" fill="#222">−30</text>
<text x="372.40" y="349.83" text-anchor="end" style="font-family:'Liberation Sans',Arial,sans-serif;font-size:7px" fill="#222">−20</text>
<text x="372.40" y="332.35" text-anchor="end" style="font-family:'Liberation Sans',Arial,sans-serif;font-size:7px" fill="#222">−10</text>
<text x="372.40" y="314.87" text-anchor="end" style="font-family:'Liberation Sans',Arial,sans-serif;font-size:7px" fill="#222">0</text>
<text x="372.40" y="297.38" text-anchor="end" style="font-family:'Liberation Sans',Arial,sans-serif;font-size:7px" fill="#222">10</text>
<text x="372.40" y="279.90" text-anchor="end" style="font-family:'Liberation Sans',Arial,sans-serif;font-size:7px" fill="#222">20</text>
<text x="446.70" y="400.80" text-anchor="middle" style="font-family:'Liberation Sans',Arial,sans-serif;font-size:7px" fill="#222">Oxygen chemical potential, Δμ<tspan dy="2.2" style="font-size:5.6px">O</tspan><tspan dy="-2.2"> (eV)</tspan></text>
<text x="379.81" y="274.60" style="font-family:'Liberation Sans',Arial,sans-serif;font-size:8.4px" fill="#222">O<tspan dy="1.2" style="font-size:5px">lean</tspan></text>
<text x="490.28" y="274.60" style="font-family:'Liberation Sans',Arial,sans-serif;font-size:8.4px" fill="#222">O<tspan dy="1.2" style="font-size:5px">rich</tspan></text>
<text transform="translate(22.20,329.85) rotate(-90)" text-anchor="middle" style="font-family:'Liberation Sans',Arial,sans-serif;font-size:6.75px" fill="#222">Surface free energy (meV/Å<tspan dy="-2.5" style="font-size:5px">2</tspan><tspan dy="2.5">)</tspan></text>
<text transform="translate(11.6,204.4) rotate(-90)" text-anchor="middle" style="font-family:'Liberation Sans',Arial,sans-serif;font-size:8.6px;font-weight:bold" fill="#111">PBE</text>
<text transform="translate(10.9,331.2) rotate(-90)" text-anchor="middle" style="font-family:'Liberation Sans',Arial,sans-serif;font-size:8.6px;font-weight:bold" fill="#111">PBE-D<tspan dy="-2.5" style="font-size:6px">*</tspan></text>
<path d="M179,93.3 H115.9 V145" fill="none" stroke="#9a9a9a" stroke-width="2"/>
<path d="M112.0,137.3 L115.9,150.6 L119.8,137.3 L115.9,141.0 Z" fill="#9a9a9a"/>
<path d="M280.9,122.6 V145" fill="none" stroke="#9a9a9a" stroke-width="2"/>
<path d="M277.0,139.2 L280.9,152.5 L284.8,139.2 L280.9,142.9 Z" fill="#9a9a9a"/>
<path d="M379,93.1 H442.4 V145" fill="none" stroke="#9a9a9a" stroke-width="2"/>
<path d="M438.5,137.3 L442.4,150.6 L446.3,137.3 L442.4,141.0 Z" fill="#9a9a9a"/>
<text x="145.5" y="90.6" text-anchor="middle" style="font-family:'Liberation Sans',Arial,sans-serif;font-size:9.8px;font-weight:bold" fill="#111" stroke="#111" stroke-width="0.3">imidazole</text>
<text x="281.4" y="135.2" text-anchor="middle" style="font-family:'Liberation Sans',Arial,sans-serif;font-size:9.8px;font-weight:bold" fill="#111" stroke="#111" stroke-width="0.3">triazole</text>
<text x="412.3" y="90.6" text-anchor="middle" style="font-family:'Liberation Sans',Arial,sans-serif;font-size:9.8px;font-weight:bold" fill="#111" stroke="#111" stroke-width="0.3">tetrazole</text>
<clipPath id="clip0"><rect x="5.2" y="422.2" width="99.6" height="98.5"/></clipPath>
<g clip-path="url(#clip0)">
<rect x="5.2" y="422.2" width="99.6" height="98.5" fill="#6a3418"/>
<circle cx="-10.0" cy="434.6" r="10.0" fill="url(#gCu3)"/>
<circle cx="8.5" cy="434.6" r="10.0" fill="url(#gCu3)"/>
<circle cx="27.0" cy="434.6" r="10.0" fill="url(#gCu3)"/>
<circle cx="45.5" cy="434.6" r="10.0" fill="url(#gCu3)"/>
<circle cx="64.0" cy="434.6" r="10.0" fill="url(#gCu3)"/>
<circle cx="82.5" cy="434.6" r="10.0" fill="url(#gCu3)"/>
<circle cx="101.0" cy="434.6" r="10.0" fill="url(#gCu3)"/>
<circle cx="-10.0" cy="467.0" r="10.0" fill="url(#gCu3)"/>
<circle cx="8.5" cy="467.0" r="10.0" fill="url(#gCu3)"/>
<circle cx="27.0" cy="467.0" r="10.0" fill="url(#gCu3)"/>
<circle cx="45.5" cy="467.0" r="10.0" fill="url(#gCu3)"/>
<circle cx="64.0" cy="467.0" r="10.0" fill="url(#gCu3)"/>
<circle cx="82.5" cy="467.0" r="10.0" fill="url(#gCu3)"/>
<circle cx="101.0" cy="467.0" r="10.0" fill="url(#gCu3)"/>
<circle cx="-10.0" cy="499.4" r="10.0" fill="url(#gCu3)"/>
<circle cx="8.5" cy="499.4" r="10.0" fill="url(#gCu3)"/>
<circle cx="27.0" cy="499.4" r="10.0" fill="url(#gCu3)"/>
<circle cx="45.5" cy="499.4" r="10.0" fill="url(#gCu3)"/>
<circle cx="64.0" cy="499.4" r="10.0" fill="url(#gCu3)"/>
<circle cx="82.5" cy="499.4" r="10.0" fill="url(#gCu3)"/>
<circle cx="101.0" cy="499.4" r="10.0" fill="url(#gCu3)"/>
<ellipse cx="36.4" cy="437.2" rx="8" ry="6" fill="#4a200c" opacity="0.75"/>
<ellipse cx="36.4" cy="438.7" rx="4.2" ry="3.6" transform="rotate(0 36.4 438.7)" fill="url(#gO)"/>
<ellipse cx="73.4" cy="437.2" rx="8" ry="6" fill="#4a200c" opacity="0.75"/>
<ellipse cx="73.4" cy="438.7" rx="4.2" ry="3.6" transform="rotate(0 73.4 438.7)" fill="url(#gO)"/>
<ellipse cx="110.5" cy="437.2" rx="8" ry="6" fill="#4a200c" opacity="0.75"/>
<ellipse cx="110.5" cy="438.7" rx="4.2" ry="3.6" transform="rotate(0 110.5 438.7)" fill="url(#gO)"/>
<ellipse cx="18.0" cy="469.5" rx="8" ry="6" fill="#4a200c" opacity="0.75"/>
<ellipse cx="18.0" cy="471.0" rx="4.2" ry="3.6" transform="rotate(0 18.0 471.0)" fill="url(#gO)"/>
<ellipse cx="55.0" cy="469.5" rx="8" ry="6" fill="#4a200c" opacity="0.75"/>
<ellipse cx="55.0" cy="471.0" rx="4.2" ry="3.6" transform="rotate(0 55.0 471.0)" fill="url(#gO)"/>
<ellipse cx="92.1" cy="469.5" rx="8" ry="6" fill="#4a200c" opacity="0.75"/>
<ellipse cx="92.1" cy="471.0" rx="4.2" ry="3.6" transform="rotate(0 92.1 471.0)" fill="url(#gO)"/>
<ellipse cx="36.4" cy="501.8" rx="8" ry="6" fill="#4a200c" opacity="0.75"/>
<ellipse cx="36.4" cy="503.3" rx="4.2" ry="3.6" transform="rotate(0 36.4 503.3)" fill="url(#gO)"/>
<ellipse cx="73.4" cy="501.8" rx="8" ry="6" fill="#4a200c" opacity="0.75"/>
<ellipse cx="73.4" cy="503.3" rx="4.2" ry="3.6" transform="rotate(0 73.4 503.3)" fill="url(#gO)"/>
<circle cx="-7.3" cy="418.4" r="10.0" fill="url(#gCuD)"/>
<circle cx="11.2" cy="418.4" r="10.0" fill="url(#gCuD)"/>
<circle cx="29.7" cy="418.4" r="10.0" fill="url(#gCuD)"/>
<circle cx="48.2" cy="418.4" r="10.0" fill="url(#gCuD)"/>
<circle cx="66.7" cy="418.4" r="10.0" fill="url(#gCuD)"/>
<circle cx="85.2" cy="418.4" r="10.0" fill="url(#gCuD)"/>
<circle cx="103.7" cy="418.4" r="10.0" fill="url(#gCuD)"/>
<circle cx="-7.3" cy="450.9" r="10.0" fill="url(#gCuD)"/>
<circle cx="11.2" cy="450.9" r="10.0" fill="url(#gCuD)"/>
<circle cx="29.7" cy="450.9" r="10.0" fill="url(#gCuD)"/>
<circle cx="48.2" cy="450.9" r="10.0" fill="url(#gCuD)"/>
<circle cx="66.7" cy="450.9" r="10.0" fill="url(#gCuD)"/>
<circle cx="85.2" cy="450.9" r="10.0" fill="url(#gCuD)"/>
<circle cx="103.7" cy="450.9" r="10.0" fill="url(#gCuD)"/>
<circle cx="-7.3" cy="483.2" r="10.0" fill="url(#gCuD)"/>
<circle cx="11.2" cy="483.2" r="10.0" fill="url(#gCuD)"/>
<circle cx="29.7" cy="483.2" r="10.0" fill="url(#gCuD)"/>
<circle cx="48.2" cy="483.2" r="10.0" fill="url(#gCuD)"/>
<circle cx="66.7" cy="483.2" r="10.0" fill="url(#gCuD)"/>
<circle cx="85.2" cy="483.2" r="10.0" fill="url(#gCuD)"/>
<circle cx="103.7" cy="483.2" r="10.0" fill="url(#gCuD)"/>
<circle cx="-7.3" cy="515.5" r="10.0" fill="url(#gCuD)"/>
<circle cx="11.2" cy="515.5" r="10.0" fill="url(#gCuD)"/>
<circle cx="29.7" cy="515.5" r="10.0" fill="url(#gCuD)"/>
<circle cx="48.2" cy="515.5" r="10.0" fill="url(#gCuD)"/>
<circle cx="66.7" cy="515.5" r="10.0" fill="url(#gCuD)"/>
<circle cx="85.2" cy="515.5" r="10.0" fill="url(#gCuD)"/>
<circle cx="103.7" cy="515.5" r="10.0" fill="url(#gCuD)"/>
<circle cx="17.8" cy="450.8" r="4.2" fill="url(#gO)"/>
<circle cx="17.8" cy="428.4" r="6.6" fill="url(#gB)"/>
<circle cx="17.8" cy="436.9" r="6.8" fill="url(#gY)"/>
<circle cx="17.8" cy="443.5" r="6.8" fill="url(#gY)"/>
<circle cx="17.8" cy="430.6" r="3.6" fill="url(#gC)"/>
<circle cx="17.8" cy="447.6" r="3.8" fill="url(#gC)"/>
<circle cx="54.9" cy="450.8" r="4.2" fill="url(#gO)"/>
<circle cx="54.9" cy="428.4" r="6.6" fill="url(#gB)"/>
<circle cx="54.9" cy="436.9" r="6.8" fill="url(#gY)"/>
<circle cx="54.9" cy="443.5" r="6.8" fill="url(#gY)"/>
<circle cx="54.9" cy="430.6" r="3.6" fill="url(#gC)"/>
<circle cx="54.9" cy="447.6" r="3.8" fill="url(#gC)"/>
<circle cx="92.0" cy="450.8" r="4.2" fill="url(#gO)"/>
<circle cx="92.0" cy="428.4" r="6.6" fill="url(#gB)"/>
<circle cx="92.0" cy="436.9" r="6.8" fill="url(#gY)"/>
<circle cx="92.0" cy="443.5" r="6.8" fill="url(#gY)"/>
<circle cx="92.0" cy="430.6" r="3.6" fill="url(#gC)"/>
<circle cx="92.0" cy="447.6" r="3.8" fill="url(#gC)"/>
<circle cx="36.5" cy="483.2" r="4.2" fill="url(#gO)"/>
<circle cx="36.5" cy="460.8" r="6.6" fill="url(#gB)"/>
<circle cx="36.5" cy="469.3" r="6.8" fill="url(#gY)"/>
<circle cx="36.5" cy="475.9" r="6.8" fill="url(#gY)"/>
<circle cx="36.5" cy="463.0" r="3.6" fill="url(#gC)"/>
<circle cx="36.5" cy="480.0" r="3.8" fill="url(#gC)"/>
<circle cx="73.5" cy="483.2" r="4.2" fill="url(#gO)"/>
<circle cx="73.5" cy="460.8" r="6.6" fill="url(#gB)"/>
<circle cx="73.5" cy="469.3" r="6.8" fill="url(#gY)"/>
<circle cx="73.5" cy="475.9" r="6.8" fill="url(#gY)"/>
<circle cx="73.5" cy="463.0" r="3.6" fill="url(#gC)"/>
<circle cx="73.5" cy="480.0" r="3.8" fill="url(#gC)"/>
<circle cx="110.6" cy="483.2" r="4.2" fill="url(#gO)"/>
<circle cx="110.6" cy="460.8" r="6.6" fill="url(#gB)"/>
<circle cx="110.6" cy="469.3" r="6.8" fill="url(#gY)"/>
<circle cx="110.6" cy="475.9" r="6.8" fill="url(#gY)"/>
<circle cx="110.6" cy="463.0" r="3.6" fill="url(#gC)"/>
<circle cx="110.6" cy="480.0" r="3.8" fill="url(#gC)"/>
<circle cx="-0.6" cy="483.2" r="4.2" fill="url(#gO)"/>
<circle cx="-0.6" cy="460.8" r="6.6" fill="url(#gB)"/>
<circle cx="-0.6" cy="469.3" r="6.8" fill="url(#gY)"/>
<circle cx="-0.6" cy="475.9" r="6.8" fill="url(#gY)"/>
<circle cx="-0.6" cy="463.0" r="3.6" fill="url(#gC)"/>
<circle cx="-0.6" cy="480.0" r="3.8" fill="url(#gC)"/>
<circle cx="17.8" cy="515.8" r="4.2" fill="url(#gO)"/>
<circle cx="17.8" cy="493.4" r="6.6" fill="url(#gB)"/>
<circle cx="17.8" cy="501.9" r="6.8" fill="url(#gY)"/>
<circle cx="17.8" cy="508.5" r="6.8" fill="url(#gY)"/>
<circle cx="17.8" cy="495.6" r="3.6" fill="url(#gC)"/>
<circle cx="17.8" cy="512.6" r="3.8" fill="url(#gC)"/>
<circle cx="54.9" cy="515.8" r="4.2" fill="url(#gO)"/>
<circle cx="54.9" cy="493.4" r="6.6" fill="url(#gB)"/>
<circle cx="54.9" cy="501.9" r="6.8" fill="url(#gY)"/>
<circle cx="54.9" cy="508.5" r="6.8" fill="url(#gY)"/>
<circle cx="54.9" cy="495.6" r="3.6" fill="url(#gC)"/>
<circle cx="54.9" cy="512.6" r="3.8" fill="url(#gC)"/>
<circle cx="92.0" cy="515.8" r="4.2" fill="url(#gO)"/>
<circle cx="92.0" cy="493.4" r="6.6" fill="url(#gB)"/>
<circle cx="92.0" cy="501.9" r="6.8" fill="url(#gY)"/>
<circle cx="92.0" cy="508.5" r="6.8" fill="url(#gY)"/>
<circle cx="92.0" cy="495.6" r="3.6" fill="url(#gC)"/>
<circle cx="92.0" cy="512.6" r="3.8" fill="url(#gC)"/>
</g>
<rect x="5.2" y="422.2" width="99.6" height="98.5" fill="none" stroke="#222" stroke-width="0.9"/>
<clipPath id="clip1"><rect x="109.2" y="422.2" width="99.0" height="98.5"/></clipPath>
<g clip-path="url(#clip1)">
<rect x="109.2" y="422.2" width="99.0" height="98.5" fill="#6a3418"/>
<circle cx="87.2" cy="434.6" r="10.0" fill="url(#gCu2)"/>
<circle cx="105.7" cy="434.6" r="10.0" fill="url(#gCu2)"/>
<circle cx="124.2" cy="434.6" r="10.0" fill="url(#gCu2)"/>
<circle cx="142.7" cy="434.6" r="10.0" fill="url(#gCu2)"/>
<circle cx="161.2" cy="434.6" r="10.0" fill="url(#gCu2)"/>
<circle cx="179.7" cy="434.6" r="10.0" fill="url(#gCu2)"/>
<circle cx="198.2" cy="434.6" r="10.0" fill="url(#gCu2)"/>
<circle cx="216.7" cy="434.6" r="10.0" fill="url(#gCu2)"/>
<circle cx="87.2" cy="467.0" r="10.0" fill="url(#gCu2)"/>
<circle cx="105.7" cy="467.0" r="10.0" fill="url(#gCu2)"/>
<circle cx="124.2" cy="467.0" r="10.0" fill="url(#gCu2)"/>
<circle cx="142.7" cy="467.0" r="10.0" fill="url(#gCu2)"/>
<circle cx="161.2" cy="467.0" r="10.0" fill="url(#gCu2)"/>
<circle cx="179.7" cy="467.0" r="10.0" fill="url(#gCu2)"/>
<circle cx="198.2" cy="467.0" r="10.0" fill="url(#gCu2)"/>
<circle cx="216.7" cy="467.0" r="10.0" fill="url(#gCu2)"/>
<circle cx="87.2" cy="499.4" r="10.0" fill="url(#gCu2)"/>
<circle cx="105.7" cy="499.4" r="10.0" fill="url(#gCu2)"/>
<circle cx="124.2" cy="499.4" r="10.0" fill="url(#gCu2)"/>
<circle cx="142.7" cy="499.4" r="10.0" fill="url(#gCu2)"/>
<circle cx="161.2" cy="499.4" r="10.0" fill="url(#gCu2)"/>
<circle cx="179.7" cy="499.4" r="10.0" fill="url(#gCu2)"/>
<circle cx="198.2" cy="499.4" r="10.0" fill="url(#gCu2)"/>
<circle cx="216.7" cy="499.4" r="10.0" fill="url(#gCu2)"/>
<ellipse cx="140.4" cy="437.6" rx="4.6" ry="3.9" transform="rotate(0 140.4 437.6)" fill="url(#gO)"/>
<ellipse cx="178.5" cy="437.6" rx="4.6" ry="3.9" transform="rotate(0 178.5 437.6)" fill="url(#gO)"/>
<ellipse cx="159.9" cy="448.4" rx="4.6" ry="3.9" transform="rotate(0 159.9 448.4)" fill="url(#gO)"/>
<ellipse cx="122.1" cy="469.4" rx="4.6" ry="3.9" transform="rotate(0 122.1 469.4)" fill="url(#gO)"/>
<ellipse cx="196.6" cy="469.9" rx="4.6" ry="3.9" transform="rotate(0 196.6 469.9)" fill="url(#gO)"/>
<ellipse cx="142.0" cy="480.5" rx="4.6" ry="3.9" transform="rotate(0 142.0 480.5)" fill="url(#gO)"/>
<ellipse cx="142.0" cy="502.1" rx="4.6" ry="3.9" transform="rotate(0 142.0 502.1)" fill="url(#gO)"/>
<ellipse cx="178.2" cy="502.1" rx="4.6" ry="3.9" transform="rotate(0 178.2 502.1)" fill="url(#gO)"/>
<ellipse cx="123.3" cy="512.8" rx="4.6" ry="3.9" transform="rotate(0 123.3 512.8)" fill="url(#gO)"/>
<ellipse cx="196.6" cy="512.8" rx="4.6" ry="3.9" transform="rotate(0 196.6 512.8)" fill="url(#gO)"/>
<circle cx="97.4" cy="418.8" r="10.0" fill="url(#gCu)"/>
<circle cx="115.9" cy="418.8" r="10.0" fill="url(#gCu)"/>
<circle cx="134.4" cy="418.8" r="10.0" fill="url(#gCu)"/>
<circle cx="152.9" cy="418.8" r="10.0" fill="url(#gCu)"/>
<circle cx="171.4" cy="418.8" r="10.0" fill="url(#gCu)"/>
<circle cx="189.9" cy="418.8" r="10.0" fill="url(#gCu)"/>
<circle cx="208.4" cy="418.8" r="10.0" fill="url(#gCu)"/>
<circle cx="97.4" cy="451.1" r="10.0" fill="url(#gCu)"/>
<circle cx="115.9" cy="451.1" r="10.0" fill="url(#gCu)"/>
<circle cx="134.4" cy="451.1" r="10.0" fill="url(#gCu)"/>
<circle cx="152.9" cy="451.1" r="10.0" fill="url(#gCu)"/>
<circle cx="171.4" cy="451.1" r="10.0" fill="url(#gCu)"/>
<circle cx="189.9" cy="451.1" r="10.0" fill="url(#gCu)"/>
<circle cx="208.4" cy="451.1" r="10.0" fill="url(#gCu)"/>
<circle cx="97.4" cy="483.5" r="10.0" fill="url(#gCu)"/>
<circle cx="115.9" cy="483.5" r="10.0" fill="url(#gCu)"/>
<circle cx="134.4" cy="483.5" r="10.0" fill="url(#gCu)"/>
<circle cx="152.9" cy="483.5" r="10.0" fill="url(#gCu)"/>
<circle cx="171.4" cy="483.5" r="10.0" fill="url(#gCu)"/>
<circle cx="189.9" cy="483.5" r="10.0" fill="url(#gCu)"/>
<circle cx="208.4" cy="483.5" r="10.0" fill="url(#gCu)"/>
<circle cx="97.4" cy="515.8" r="10.0" fill="url(#gCu)"/>
<circle cx="115.9" cy="515.8" r="10.0" fill="url(#gCu)"/>
<circle cx="134.4" cy="515.8" r="10.0" fill="url(#gCu)"/>
<circle cx="152.9" cy="515.8" r="10.0" fill="url(#gCu)"/>
<circle cx="171.4" cy="515.8" r="10.0" fill="url(#gCu)"/>
<circle cx="189.9" cy="515.8" r="10.0" fill="url(#gCu)"/>
<circle cx="208.4" cy="515.8" r="10.0" fill="url(#gCu)"/>
<circle cx="87.7" cy="434.3" r="10.4" fill="url(#gCu)"/>
<circle cx="124.9" cy="434.3" r="10.4" fill="url(#gCu)"/>
<circle cx="162.1" cy="434.3" r="10.4" fill="url(#gCu)"/>
<circle cx="199.3" cy="434.3" r="10.4" fill="url(#gCu)"/>
<circle cx="87.7" cy="498.8" r="10.4" fill="url(#gCu)"/>
<circle cx="124.9" cy="498.8" r="10.4" fill="url(#gCu)"/>
<circle cx="162.1" cy="498.8" r="10.4" fill="url(#gCu)"/>
<circle cx="199.3" cy="498.8" r="10.4" fill="url(#gCu)"/>
<circle cx="69.2" cy="466.6" r="10.4" fill="url(#gCu)"/>
<circle cx="106.4" cy="466.6" r="10.4" fill="url(#gCu)"/>
<circle cx="143.6" cy="466.6" r="10.4" fill="url(#gCu)"/>
<circle cx="180.8" cy="466.6" r="10.4" fill="url(#gCu)"/>
<circle cx="218.0" cy="466.6" r="10.4" fill="url(#gCu)"/>
<ellipse cx="159.9" cy="448.4" rx="4.6" ry="3.9" transform="rotate(0 159.9 448.4)" fill="url(#gO)"/>
<circle cx="156.4" cy="426.3" r="6.6" fill="url(#gB)"/>
<circle cx="137.5" cy="423.5" r="6.0" fill="url(#gY)"/>
<circle cx="143.3" cy="424.8" r="6.5" fill="url(#gY)"/>
<circle cx="148.4" cy="425.9" r="3.2" fill="url(#gC)"/>
<circle cx="136.5" cy="420.5" r="3.0" fill="url(#gC)"/>
<circle cx="121.6" cy="435.0" r="6.8" fill="url(#gB)"/>
<circle cx="126.7" cy="443.6" r="6.4" fill="url(#gY)"/>
<circle cx="126.1" cy="436.2" r="6.4" fill="url(#gY)"/>
<circle cx="125.6" cy="433.5" r="3.3" fill="url(#gC)"/>
<circle cx="127.6" cy="450.6" r="3.4" fill="url(#gC)"/>
<circle cx="195.9" cy="435.0" r="6.8" fill="url(#gB)"/>
<circle cx="201.0" cy="443.6" r="6.4" fill="url(#gY)"/>
<circle cx="200.4" cy="436.2" r="6.4" fill="url(#gY)"/>
<circle cx="199.9" cy="433.5" r="3.3" fill="url(#gC)"/>
<circle cx="201.9" cy="450.6" r="3.4" fill="url(#gC)"/>
<circle cx="161.8" cy="473.8" r="6.4" fill="url(#gB)"/>
<circle cx="158.7" cy="466.9" r="6.6" fill="url(#gY)"/>
<circle cx="158.7" cy="460.0" r="6.6" fill="url(#gY)"/>
<circle cx="158.7" cy="455.0" r="3.2" fill="url(#gC)"/>
<circle cx="159.3" cy="472.3" r="3.3" fill="url(#gC)"/>
<circle cx="134.1" cy="462.3" r="7.0" fill="url(#gB)"/>
<circle cx="133.3" cy="477.2" r="6.3" fill="url(#gY)"/>
<circle cx="133.0" cy="469.5" r="6.6" fill="url(#gY)"/>
<circle cx="130.4" cy="469.3" r="3.2" fill="url(#gC)"/>
<circle cx="134.0" cy="484.5" r="3.2" fill="url(#gC)"/>
<circle cx="208.4" cy="462.3" r="7.0" fill="url(#gB)"/>
<circle cx="207.6" cy="477.2" r="6.3" fill="url(#gY)"/>
<circle cx="205.6" cy="469.5" r="6.6" fill="url(#gY)"/>
<circle cx="205.1" cy="469.2" r="3.2" fill="url(#gC)"/>
<circle cx="206.4" cy="484.3" r="3.2" fill="url(#gC)"/>
<circle cx="194.0" cy="488.3" r="6.8" fill="url(#gB)"/>
<circle cx="186.0" cy="488.3" r="6.2" fill="url(#gY)"/>
<circle cx="179.5" cy="484.3" r="6.6" fill="url(#gY)"/>
<circle cx="172.9" cy="483.0" r="3.2" fill="url(#gC)"/>
<circle cx="186.0" cy="489.8" r="3.2" fill="url(#gC)"/>
<circle cx="119.7" cy="488.3" r="6.8" fill="url(#gB)"/>
<circle cx="111.7" cy="488.3" r="6.2" fill="url(#gY)"/>
<circle cx="105.2" cy="484.3" r="6.6" fill="url(#gY)"/>
<circle cx="111.7" cy="489.8" r="3.2" fill="url(#gC)"/>
<circle cx="158.4" cy="496.2" r="6.8" fill="url(#gB)"/>
<circle cx="163.7" cy="509.3" r="6.3" fill="url(#gY)"/>
<circle cx="163.7" cy="500.8" r="6.6" fill="url(#gY)"/>
<circle cx="163.0" cy="498.4" r="3.2" fill="url(#gC)"/>
<circle cx="165.7" cy="514.0" r="3.2" fill="url(#gC)"/>
<circle cx="122.5" cy="518.8" r="3.3" fill="url(#gC)"/>
<circle cx="196.6" cy="518.3" r="3.3" fill="url(#gC)"/>
</g>
<rect x="109.2" y="422.2" width="99.0" height="98.5" fill="none" stroke="#222" stroke-width="0.9"/>
<clipPath id="clip2"><rect x="213.7" y="422.2" width="98.9" height="98.5"/></clipPath>
<g clip-path="url(#clip2)">
<rect x="213.7" y="422.2" width="98.9" height="98.5" fill="#6a3418"/>
<circle cx="191.4" cy="434.6" r="10.0" fill="url(#gCu2)"/>
<circle cx="209.9" cy="434.6" r="10.0" fill="url(#gCu2)"/>
<circle cx="228.4" cy="434.6" r="10.0" fill="url(#gCu2)"/>
<circle cx="246.9" cy="434.6" r="10.0" fill="url(#gCu2)"/>
<circle cx="265.4" cy="434.6" r="10.0" fill="url(#gCu2)"/>
<circle cx="283.9" cy="434.6" r="10.0" fill="url(#gCu2)"/>
<circle cx="302.4" cy="434.6" r="10.0" fill="url(#gCu2)"/>
<circle cx="320.9" cy="434.6" r="10.0" fill="url(#gCu2)"/>
<circle cx="191.4" cy="467.0" r="10.0" fill="url(#gCu2)"/>
<circle cx="209.9" cy="467.0" r="10.0" fill="url(#gCu2)"/>
<circle cx="228.4" cy="467.0" r="10.0" fill="url(#gCu2)"/>
<circle cx="246.9" cy="467.0" r="10.0" fill="url(#gCu2)"/>
<circle cx="265.4" cy="467.0" r="10.0" fill="url(#gCu2)"/>
<circle cx="283.9" cy="467.0" r="10.0" fill="url(#gCu2)"/>
<circle cx="302.4" cy="467.0" r="10.0" fill="url(#gCu2)"/>
<circle cx="320.9" cy="467.0" r="10.0" fill="url(#gCu2)"/>
<circle cx="191.4" cy="499.4" r="10.0" fill="url(#gCu2)"/>
<circle cx="209.9" cy="499.4" r="10.0" fill="url(#gCu2)"/>
<circle cx="228.4" cy="499.4" r="10.0" fill="url(#gCu2)"/>
<circle cx="246.9" cy="499.4" r="10.0" fill="url(#gCu2)"/>
<circle cx="265.4" cy="499.4" r="10.0" fill="url(#gCu2)"/>
<circle cx="283.9" cy="499.4" r="10.0" fill="url(#gCu2)"/>
<circle cx="302.4" cy="499.4" r="10.0" fill="url(#gCu2)"/>
<circle cx="320.9" cy="499.4" r="10.0" fill="url(#gCu2)"/>
<circle cx="200.7" cy="418.8" r="10.4" fill="url(#gCu)"/>
<circle cx="219.2" cy="418.8" r="10.4" fill="url(#gCu)"/>
<circle cx="237.7" cy="418.8" r="10.4" fill="url(#gCu)"/>
<circle cx="256.2" cy="418.8" r="10.4" fill="url(#gCu)"/>
<circle cx="274.7" cy="418.8" r="10.4" fill="url(#gCu)"/>
<circle cx="293.2" cy="418.8" r="10.4" fill="url(#gCu)"/>
<circle cx="311.7" cy="418.8" r="10.4" fill="url(#gCu)"/>
<circle cx="200.7" cy="451.1" r="10.4" fill="url(#gCu)"/>
<circle cx="219.2" cy="451.1" r="10.4" fill="url(#gCu)"/>
<circle cx="237.7" cy="451.1" r="10.4" fill="url(#gCu)"/>
<circle cx="256.2" cy="451.1" r="10.4" fill="url(#gCu)"/>
<circle cx="274.7" cy="451.1" r="10.4" fill="url(#gCu)"/>
<circle cx="293.2" cy="451.1" r="10.4" fill="url(#gCu)"/>
<circle cx="311.7" cy="451.1" r="10.4" fill="url(#gCu)"/>
<circle cx="200.7" cy="483.5" r="10.4" fill="url(#gCu)"/>
<circle cx="219.2" cy="483.5" r="10.4" fill="url(#gCu)"/>
<circle cx="237.7" cy="483.5" r="10.4" fill="url(#gCu)"/>
<circle cx="256.2" cy="483.5" r="10.4" fill="url(#gCu)"/>
<circle cx="274.7" cy="483.5" r="10.4" fill="url(#gCu)"/>
<circle cx="293.2" cy="483.5" r="10.4" fill="url(#gCu)"/>
<circle cx="311.7" cy="483.5" r="10.4" fill="url(#gCu)"/>
<circle cx="200.7" cy="515.8" r="10.4" fill="url(#gCu)"/>
<circle cx="219.2" cy="515.8" r="10.4" fill="url(#gCu)"/>
<circle cx="237.7" cy="515.8" r="10.4" fill="url(#gCu)"/>
<circle cx="256.2" cy="515.8" r="10.4" fill="url(#gCu)"/>
<circle cx="274.7" cy="515.8" r="10.4" fill="url(#gCu)"/>
<circle cx="293.2" cy="515.8" r="10.4" fill="url(#gCu)"/>
<circle cx="311.7" cy="515.8" r="10.4" fill="url(#gCu)"/>
<circle cx="191.0" cy="436.1" r="10.8" fill="url(#gCu)"/>
<circle cx="228.2" cy="436.1" r="10.8" fill="url(#gCu)"/>
<circle cx="265.4" cy="436.1" r="10.8" fill="url(#gCu)"/>
<circle cx="302.6" cy="436.1" r="10.8" fill="url(#gCu)"/>
<circle cx="191.0" cy="500.3" r="10.8" fill="url(#gCu)"/>
<circle cx="228.2" cy="500.3" r="10.8" fill="url(#gCu)"/>
<circle cx="265.4" cy="500.3" r="10.8" fill="url(#gCu)"/>
<circle cx="302.6" cy="500.3" r="10.8" fill="url(#gCu)"/>
<circle cx="172.4" cy="468.2" r="10.8" fill="url(#gCu)"/>
<circle cx="209.6" cy="468.2" r="10.8" fill="url(#gCu)"/>
<circle cx="246.8" cy="468.2" r="10.8" fill="url(#gCu)"/>
<circle cx="284.0" cy="468.2" r="10.8" fill="url(#gCu)"/>
<circle cx="321.2" cy="468.2" r="10.8" fill="url(#gCu)"/>
<ellipse cx="225.4" cy="449.5" rx="4.5" ry="3.8" transform="rotate(0 225.4 449.5)" fill="url(#gOb)"/>
<ellipse cx="262.9" cy="449.5" rx="4.5" ry="3.8" transform="rotate(0 262.9 449.5)" fill="url(#gOb)"/>
<ellipse cx="300.4" cy="449.5" rx="4.5" ry="3.8" transform="rotate(0 300.4 449.5)" fill="url(#gOb)"/>
<ellipse cx="243.6" cy="481.9" rx="4.5" ry="3.8" transform="rotate(0 243.6 481.9)" fill="url(#gOb)"/>
<ellipse cx="281.0" cy="481.9" rx="4.5" ry="3.8" transform="rotate(0 281.0 481.9)" fill="url(#gOb)"/>
<ellipse cx="318.2" cy="481.9" rx="4.5" ry="3.8" transform="rotate(0 318.2 481.9)" fill="url(#gOb)"/>
<ellipse cx="225.4" cy="514.5" rx="4.5" ry="3.8" transform="rotate(0 225.4 514.5)" fill="url(#gOb)"/>
<ellipse cx="262.9" cy="514.5" rx="4.5" ry="3.8" transform="rotate(0 262.9 514.5)" fill="url(#gOb)"/>
<ellipse cx="300.4" cy="514.5" rx="4.5" ry="3.8" transform="rotate(0 300.4 514.5)" fill="url(#gOb)"/>
<ellipse cx="243.6" cy="417.4" rx="4.5" ry="3.8" transform="rotate(0 243.6 417.4)" fill="url(#gOb)"/>
<ellipse cx="281.0" cy="417.4" rx="4.5" ry="3.8" transform="rotate(0 281.0 417.4)" fill="url(#gOb)"/>
<circle cx="243.6" cy="446.7" r="5.6" fill="url(#gB)"/>
<circle cx="243.6" cy="433.3" r="6.8" fill="url(#gY)"/>
<circle cx="243.6" cy="440.1" r="6.8" fill="url(#gY)"/>
<circle cx="243.6" cy="426.8" r="3.6" fill="url(#gC)"/>
<circle cx="243.6" cy="444.3" r="3.8" fill="url(#gC)"/>
<circle cx="280.9" cy="446.7" r="5.6" fill="url(#gB)"/>
<circle cx="280.9" cy="433.3" r="6.8" fill="url(#gY)"/>
<circle cx="280.9" cy="440.1" r="6.8" fill="url(#gY)"/>
<circle cx="280.9" cy="426.8" r="3.6" fill="url(#gC)"/>
<circle cx="280.9" cy="444.3" r="3.8" fill="url(#gC)"/>
<circle cx="225.0" cy="476.9" r="5.6" fill="url(#gB)"/>
<circle cx="225.0" cy="463.5" r="6.8" fill="url(#gY)"/>
<circle cx="225.0" cy="470.3" r="6.8" fill="url(#gY)"/>
<circle cx="225.0" cy="457.0" r="3.6" fill="url(#gC)"/>
<circle cx="225.0" cy="474.5" r="3.8" fill="url(#gC)"/>
<circle cx="262.7" cy="476.9" r="5.6" fill="url(#gB)"/>
<circle cx="262.7" cy="463.5" r="6.8" fill="url(#gY)"/>
<circle cx="262.7" cy="470.3" r="6.8" fill="url(#gY)"/>
<circle cx="262.7" cy="457.0" r="3.6" fill="url(#gC)"/>
<circle cx="262.7" cy="474.5" r="3.8" fill="url(#gC)"/>
<circle cx="300.2" cy="476.9" r="5.6" fill="url(#gB)"/>
<circle cx="300.2" cy="463.5" r="6.8" fill="url(#gY)"/>
<circle cx="300.2" cy="470.3" r="6.8" fill="url(#gY)"/>
<circle cx="300.2" cy="457.0" r="3.6" fill="url(#gC)"/>
<circle cx="300.2" cy="474.5" r="3.8" fill="url(#gC)"/>
<circle cx="243.6" cy="509.5" r="5.6" fill="url(#gB)"/>
<circle cx="243.6" cy="496.1" r="6.8" fill="url(#gY)"/>
<circle cx="243.6" cy="502.9" r="6.8" fill="url(#gY)"/>
<circle cx="243.6" cy="489.6" r="3.6" fill="url(#gC)"/>
<circle cx="243.6" cy="507.1" r="3.8" fill="url(#gC)"/>
<circle cx="280.9" cy="509.5" r="5.6" fill="url(#gB)"/>
<circle cx="280.9" cy="496.1" r="6.8" fill="url(#gY)"/>
<circle cx="280.9" cy="502.9" r="6.8" fill="url(#gY)"/>
<circle cx="280.9" cy="489.6" r="3.6" fill="url(#gC)"/>
<circle cx="280.9" cy="507.1" r="3.8" fill="url(#gC)"/>
<circle cx="225.0" cy="541.7" r="5.6" fill="url(#gB)"/>
<circle cx="225.0" cy="528.3" r="6.8" fill="url(#gY)"/>
<circle cx="225.0" cy="535.1" r="6.8" fill="url(#gY)"/>
<circle cx="225.0" cy="521.8" r="3.6" fill="url(#gC)"/>
<circle cx="225.0" cy="539.3" r="3.8" fill="url(#gC)"/>
<circle cx="262.7" cy="541.7" r="5.6" fill="url(#gB)"/>
<circle cx="262.7" cy="528.3" r="6.8" fill="url(#gY)"/>
<circle cx="262.7" cy="535.1" r="6.8" fill="url(#gY)"/>
<circle cx="262.7" cy="521.8" r="3.6" fill="url(#gC)"/>
<circle cx="262.7" cy="539.3" r="3.8" fill="url(#gC)"/>
<circle cx="300.2" cy="541.7" r="5.6" fill="url(#gB)"/>
<circle cx="300.2" cy="528.3" r="6.8" fill="url(#gY)"/>
<circle cx="300.2" cy="535.1" r="6.8" fill="url(#gY)"/>
<circle cx="300.2" cy="521.8" r="3.6" fill="url(#gC)"/>
<circle cx="300.2" cy="539.3" r="3.8" fill="url(#gC)"/>
</g>
<rect x="213.7" y="422.2" width="98.9" height="98.5" fill="none" stroke="#222" stroke-width="0.9"/>
<clipPath id="clip3"><rect x="317.7" y="422.2" width="98.1" height="98.5"/></clipPath>
<g clip-path="url(#clip3)">
<rect x="317.7" y="422.2" width="98.1" height="98.5" fill="#6a3418"/>
<circle cx="294.2" cy="434.6" r="10.0" fill="url(#gCu2)"/>
<circle cx="312.7" cy="434.6" r="10.0" fill="url(#gCu2)"/>
<circle cx="331.2" cy="434.6" r="10.0" fill="url(#gCu2)"/>
<circle cx="349.7" cy="434.6" r="10.0" fill="url(#gCu2)"/>
<circle cx="368.2" cy="434.6" r="10.0" fill="url(#gCu2)"/>
<circle cx="386.7" cy="434.6" r="10.0" fill="url(#gCu2)"/>
<circle cx="405.2" cy="434.6" r="10.0" fill="url(#gCu2)"/>
<circle cx="423.7" cy="434.6" r="10.0" fill="url(#gCu2)"/>
<circle cx="294.2" cy="467.0" r="10.0" fill="url(#gCu2)"/>
<circle cx="312.7" cy="467.0" r="10.0" fill="url(#gCu2)"/>
<circle cx="331.2" cy="467.0" r="10.0" fill="url(#gCu2)"/>
<circle cx="349.7" cy="467.0" r="10.0" fill="url(#gCu2)"/>
<circle cx="368.2" cy="467.0" r="10.0" fill="url(#gCu2)"/>
<circle cx="386.7" cy="467.0" r="10.0" fill="url(#gCu2)"/>
<circle cx="405.2" cy="467.0" r="10.0" fill="url(#gCu2)"/>
<circle cx="423.7" cy="467.0" r="10.0" fill="url(#gCu2)"/>
<circle cx="294.2" cy="499.4" r="10.0" fill="url(#gCu2)"/>
<circle cx="312.7" cy="499.4" r="10.0" fill="url(#gCu2)"/>
<circle cx="331.2" cy="499.4" r="10.0" fill="url(#gCu2)"/>
<circle cx="349.7" cy="499.4" r="10.0" fill="url(#gCu2)"/>
<circle cx="368.2" cy="499.4" r="10.0" fill="url(#gCu2)"/>
<circle cx="386.7" cy="499.4" r="10.0" fill="url(#gCu2)"/>
<circle cx="405.2" cy="499.4" r="10.0" fill="url(#gCu2)"/>
<circle cx="423.7" cy="499.4" r="10.0" fill="url(#gCu2)"/>
<ellipse cx="328.4" cy="442.9" rx="4.8" ry="4.0" transform="rotate(0 328.4 442.9)" fill="url(#gO)"/>
<ellipse cx="345.6" cy="456.2" rx="4.8" ry="4.0" transform="rotate(0 345.6 456.2)" fill="url(#gO)"/>
<ellipse cx="404.1" cy="442.9" rx="4.8" ry="4.0" transform="rotate(0 404.1 442.9)" fill="url(#gO)"/>
<ellipse cx="347.5" cy="475.2" rx="4.8" ry="4.0" transform="rotate(0 347.5 475.2)" fill="url(#gO)"/>
<ellipse cx="385.0" cy="475.2" rx="4.8" ry="4.0" transform="rotate(0 385.0 475.2)" fill="url(#gO)"/>
<ellipse cx="364.6" cy="486.2" rx="4.8" ry="4.0" transform="rotate(0 364.6 486.2)" fill="url(#gO)"/>
<ellipse cx="402.2" cy="489.5" rx="4.8" ry="4.0" transform="rotate(0 402.2 489.5)" fill="url(#gO)"/>
<ellipse cx="327.5" cy="509.0" rx="4.8" ry="4.0" transform="rotate(0 327.5 509.0)" fill="url(#gO)"/>
<ellipse cx="404.1" cy="507.1" rx="4.8" ry="4.0" transform="rotate(0 404.1 507.1)" fill="url(#gO)"/>
<ellipse cx="382.0" cy="426.0" rx="4.8" ry="4.0" transform="rotate(0 382.0 426.0)" fill="url(#gO)"/>
<circle cx="358.0" cy="456.2" r="10.2" fill="url(#gCuD)"/>
<circle cx="388.9" cy="441.0" r="10.2" fill="url(#gCuD)"/>
<circle cx="338.9" cy="462.0" r="9.5" fill="url(#gCuD)"/>
<circle cx="410.8" cy="453.4" r="9.5" fill="url(#gCuD)"/>
<circle cx="347.5" cy="428.6" r="9.0" fill="url(#gCuD)"/>
<circle cx="323.0" cy="441.0" r="9.0" fill="url(#gCuD)"/>
<circle cx="362.0" cy="472.0" r="9.5" fill="url(#gCuD)"/>
<circle cx="340.0" cy="500.0" r="9.5" fill="url(#gCuD)"/>
<circle cx="392.0" cy="500.0" r="9.5" fill="url(#gCuD)"/>
<circle cx="357.0" cy="488.0" r="9.0" fill="url(#gCuD)"/>
<circle cx="410.0" cy="497.0" r="9.0" fill="url(#gCuD)"/>
<circle cx="373.0" cy="461.0" r="8.0" fill="url(#gCuD)"/>
<circle cx="325.0" cy="470.0" r="8.0" fill="url(#gCuD)"/>
<circle cx="361.0" cy="425.0" r="8.0" fill="url(#gCuD)"/>
<circle cx="400.0" cy="428.0" r="9.0" fill="url(#gCuD)"/>
<circle cx="413.0" cy="521.0" r="9.0" fill="url(#gCuD)"/>
<circle cx="320.0" cy="521.0" r="8.0" fill="url(#gCuD)"/>
<circle cx="372.0" cy="515.0" r="8.0" fill="url(#gCuD)"/>
<circle cx="334.1" cy="424.8" r="6.2" fill="url(#gY)"/>
<circle cx="326.5" cy="425.8" r="7.0" fill="url(#gY)"/>
<circle cx="320.3" cy="428.6" r="3.3" fill="url(#gC)"/>
<circle cx="385.0" cy="426.7" r="6.8" fill="url(#gB)"/>
<circle cx="367.9" cy="426.7" r="6.2" fill="url(#gY)"/>
<circle cx="373.6" cy="427.7" r="7.0" fill="url(#gY)"/>
<circle cx="363.0" cy="432.0" r="3.3" fill="url(#gC)"/>
<circle cx="377.0" cy="431.0" r="3.3" fill="url(#gC)"/>
<circle cx="354.1" cy="439.1" r="7.2" fill="url(#gB)"/>
<circle cx="341.8" cy="448.6" r="6.2" fill="url(#gY)"/>
<circle cx="347.5" cy="442.9" r="7.0" fill="url(#gY)"/>
<circle cx="345.6" cy="441.5" r="3.3" fill="url(#gC)"/>
<circle cx="338.4" cy="453.9" r="3.3" fill="url(#gC)"/>
<circle cx="394.6" cy="450.5" r="6.8" fill="url(#gB)"/>
<circle cx="381.2" cy="456.2" r="6.6" fill="url(#gY)"/>
<circle cx="389.8" cy="452.4" r="6.8" fill="url(#gY)"/>
<circle cx="391.2" cy="453.4" r="3.3" fill="url(#gC)"/>
<circle cx="376.5" cy="461.0" r="3.3" fill="url(#gC)"/>
<circle cx="326.5" cy="456.2" r="7.0" fill="url(#gB)"/>
<circle cx="321.8" cy="461.0" r="6.5" fill="url(#gY)"/>
<circle cx="321.3" cy="463.9" r="3.3" fill="url(#gC)"/>
<circle cx="410.8" cy="474.8" r="6.8" fill="url(#gB)"/>
<circle cx="399.3" cy="482.4" r="6.5" fill="url(#gY)"/>
<circle cx="404.1" cy="475.7" r="7.0" fill="url(#gY)"/>
<circle cx="402.7" cy="474.3" r="3.3" fill="url(#gC)"/>
<circle cx="394.6" cy="486.7" r="3.3" fill="url(#gC)"/>
<circle cx="337.5" cy="484.3" r="7.2" fill="url(#gB)"/>
<circle cx="324.6" cy="490.0" r="6.5" fill="url(#gY)"/>
<circle cx="333.2" cy="486.2" r="7.0" fill="url(#gY)"/>
<circle cx="334.6" cy="486.2" r="3.3" fill="url(#gC)"/>
<circle cx="320.3" cy="493.8" r="3.3" fill="url(#gC)"/>
<circle cx="382.2" cy="489.0" r="7.4" fill="url(#gB)"/>
<circle cx="368.9" cy="493.8" r="6.5" fill="url(#gY)"/>
<circle cx="375.5" cy="492.9" r="7.0" fill="url(#gY)"/>
<circle cx="363.0" cy="497.0" r="3.3" fill="url(#gC)"/>
<circle cx="377.0" cy="496.2" r="3.3" fill="url(#gC)"/>
<circle cx="354.1" cy="504.3" r="7.2" fill="url(#gB)"/>
<circle cx="342.7" cy="513.8" r="6.5" fill="url(#gY)"/>
<circle cx="347.5" cy="508.1" r="7.0" fill="url(#gY)"/>
<circle cx="346.0" cy="506.7" r="3.3" fill="url(#gC)"/>
<circle cx="338.4" cy="518.6" r="3.3" fill="url(#gC)"/>
<circle cx="394.6" cy="514.8" r="6.8" fill="url(#gB)"/>
<circle cx="387.9" cy="516.7" r="7.0" fill="url(#gY)"/>
<circle cx="391.2" cy="518.1" r="3.3" fill="url(#gC)"/>
<circle cx="324.6" cy="519.5" r="6.8" fill="url(#gB)"/>
<circle cx="365.6" cy="444.8" r="3.4" fill="url(#gC)"/>
<circle cx="364.8" cy="510.0" r="3.4" fill="url(#gC)"/>
<ellipse cx="330.3" cy="429.5" rx="15" ry="7.5" transform="rotate(-12 330.3 429.5)" fill="none" stroke="#5ed49e" stroke-width="1.3" stroke-dasharray="2.8 2"/>
<ellipse cx="386" cy="455.3" rx="18" ry="12.5" transform="rotate(-20 386 455.3)" fill="none" stroke="#5ed49e" stroke-width="1.3" stroke-dasharray="2.8 2"/>
<ellipse cx="365.6" cy="444.8" rx="7" ry="6.5" transform="rotate(0 365.6 444.8)" fill="none" stroke="#5ed49e" stroke-width="1.3" stroke-dasharray="2.8 2"/>
<ellipse cx="333" cy="488.5" rx="15" ry="12.5" transform="rotate(-15 333 488.5)" fill="none" stroke="#5ed49e" stroke-width="1.3" stroke-dasharray="2.8 2"/>
<ellipse cx="364.8" cy="510" rx="7" ry="6.5" transform="rotate(0 364.8 510)" fill="none" stroke="#5ed49e" stroke-width="1.3" stroke-dasharray="2.8 2"/>
<ellipse cx="386" cy="515.5" rx="18" ry="10" transform="rotate(-10 386 515.5)" fill="none" stroke="#5ed49e" stroke-width="1.3" stroke-dasharray="2.8 2"/>
</g>
<rect x="317.7" y="422.2" width="98.1" height="98.5" fill="none" stroke="#222" stroke-width="0.9"/>
<clipPath id="clip4"><rect x="421.6" y="422.2" width="99.0" height="98.5"/></clipPath>
<g clip-path="url(#clip4)">
<rect x="421.6" y="422.2" width="99.0" height="98.5" fill="#6a3418"/>
<rect x="421.6" y="422.2" width="99.0" height="98.5" fill="#2a1006"/>
<circle cx="397.8" cy="452.5" r="8.5" fill="url(#gCu2)"/>
<circle cx="424.4" cy="452.5" r="8.5" fill="url(#gCu2)"/>
<circle cx="451.0" cy="452.5" r="8.5" fill="url(#gCu2)"/>
<circle cx="477.6" cy="452.5" r="8.5" fill="url(#gCu2)"/>
<circle cx="504.2" cy="452.5" r="8.5" fill="url(#gCu2)"/>
<circle cx="397.8" cy="489.8" r="8.5" fill="url(#gCu2)"/>
<circle cx="424.4" cy="489.8" r="8.5" fill="url(#gCu2)"/>
<circle cx="451.0" cy="489.8" r="8.5" fill="url(#gCu2)"/>
<circle cx="477.6" cy="489.8" r="8.5" fill="url(#gCu2)"/>
<circle cx="504.2" cy="489.8" r="8.5" fill="url(#gCu2)"/>
<circle cx="416.5" cy="418.3" r="4.4" fill="url(#gO)"/>
<circle cx="390.7" cy="420.6" r="4.4" fill="url(#gO)"/>
<circle cx="469.8" cy="418.3" r="4.4" fill="url(#gO)"/>
<circle cx="444.0" cy="420.6" r="4.4" fill="url(#gO)"/>
<circle cx="523.1" cy="418.3" r="4.4" fill="url(#gO)"/>
<circle cx="497.3" cy="420.6" r="4.4" fill="url(#gO)"/>
<circle cx="416.5" cy="455.5" r="4.4" fill="url(#gO)"/>
<circle cx="390.7" cy="457.8" r="4.4" fill="url(#gO)"/>
<circle cx="469.8" cy="455.5" r="4.4" fill="url(#gO)"/>
<circle cx="444.0" cy="457.8" r="4.4" fill="url(#gO)"/>
<circle cx="523.1" cy="455.5" r="4.4" fill="url(#gO)"/>
<circle cx="497.3" cy="457.8" r="4.4" fill="url(#gO)"/>
<circle cx="416.5" cy="492.7" r="4.4" fill="url(#gO)"/>
<circle cx="390.7" cy="495.0" r="4.4" fill="url(#gO)"/>
<circle cx="469.8" cy="492.7" r="4.4" fill="url(#gO)"/>
<circle cx="444.0" cy="495.0" r="4.4" fill="url(#gO)"/>
<circle cx="523.1" cy="492.7" r="4.4" fill="url(#gO)"/>
<circle cx="497.3" cy="495.0" r="4.4" fill="url(#gO)"/>
<circle cx="416.5" cy="529.9" r="4.4" fill="url(#gO)"/>
<circle cx="390.7" cy="532.2" r="4.4" fill="url(#gO)"/>
<circle cx="469.8" cy="529.9" r="4.4" fill="url(#gO)"/>
<circle cx="444.0" cy="532.2" r="4.4" fill="url(#gO)"/>
<circle cx="523.1" cy="529.9" r="4.4" fill="url(#gO)"/>
<circle cx="497.3" cy="532.2" r="4.4" fill="url(#gO)"/>
<circle cx="381.7" cy="427.7" r="11.2" fill="url(#gCuD)"/>
<circle cx="435.0" cy="427.7" r="11.2" fill="url(#gCuD)"/>
<circle cx="488.3" cy="427.7" r="11.2" fill="url(#gCuD)"/>
<circle cx="381.7" cy="464.9" r="11.2" fill="url(#gCuD)"/>
<circle cx="435.0" cy="464.9" r="11.2" fill="url(#gCuD)"/>
<circle cx="488.3" cy="464.9" r="11.2" fill="url(#gCuD)"/>
<circle cx="381.7" cy="502.1" r="11.2" fill="url(#gCuD)"/>
<circle cx="435.0" cy="502.1" r="11.2" fill="url(#gCuD)"/>
<circle cx="488.3" cy="502.1" r="11.2" fill="url(#gCuD)"/>
<circle cx="408.3" cy="408.4" r="11.2" fill="url(#gCuD)"/>
<circle cx="461.6" cy="408.4" r="11.2" fill="url(#gCuD)"/>
<circle cx="514.9" cy="408.4" r="11.2" fill="url(#gCuD)"/>
<circle cx="408.3" cy="445.6" r="11.2" fill="url(#gCuD)"/>
<circle cx="461.6" cy="445.6" r="11.2" fill="url(#gCuD)"/>
<circle cx="514.9" cy="445.6" r="11.2" fill="url(#gCuD)"/>
<circle cx="408.3" cy="482.8" r="11.2" fill="url(#gCuD)"/>
<circle cx="461.6" cy="482.8" r="11.2" fill="url(#gCuD)"/>
<circle cx="514.9" cy="482.8" r="11.2" fill="url(#gCuD)"/>
<circle cx="408.3" cy="520.0" r="11.2" fill="url(#gCuD)"/>
<circle cx="461.6" cy="520.0" r="11.2" fill="url(#gCuD)"/>
<circle cx="514.9" cy="520.0" r="11.2" fill="url(#gCuD)"/>
<ellipse cx="408.3" cy="391.4" rx="7.0" ry="8.8" transform="rotate(-30 408.3 391.4)" fill="url(#gB)"/>
<circle cx="422.6" cy="395.8" r="6.2" fill="url(#gY)"/>
<circle cx="414.2" cy="392.7" r="6.8" fill="url(#gY)"/>
<circle cx="414.2" cy="392.1" r="3.4" fill="url(#gC)"/>
<circle cx="427.2" cy="400.7" r="3.5" fill="url(#gC)"/>
<ellipse cx="381.3" cy="412.2" rx="7.4" ry="9.2" transform="rotate(30 381.3 412.2)" fill="url(#gB)"/>
<circle cx="394.9" cy="403.5" r="6.2" fill="url(#gY)"/>
<circle cx="386.9" cy="408.8" r="7.0" fill="url(#gY)"/>
<circle cx="387.3" cy="410.4" r="3.5" fill="url(#gC)"/>
<circle cx="400.3" cy="400.8" r="3.5" fill="url(#gC)"/>
<ellipse cx="461.6" cy="391.4" rx="7.0" ry="8.8" transform="rotate(-30 461.6 391.4)" fill="url(#gB)"/>
<circle cx="475.9" cy="395.8" r="6.2" fill="url(#gY)"/>
<circle cx="467.5" cy="392.7" r="6.8" fill="url(#gY)"/>
<circle cx="467.5" cy="392.1" r="3.4" fill="url(#gC)"/>
<circle cx="480.5" cy="400.7" r="3.5" fill="url(#gC)"/>
<ellipse cx="434.6" cy="412.2" rx="7.4" ry="9.2" transform="rotate(30 434.6 412.2)" fill="url(#gB)"/>
<circle cx="448.2" cy="403.5" r="6.2" fill="url(#gY)"/>
<circle cx="440.2" cy="408.8" r="7.0" fill="url(#gY)"/>
<circle cx="440.6" cy="410.4" r="3.5" fill="url(#gC)"/>
<circle cx="453.6" cy="400.8" r="3.5" fill="url(#gC)"/>
<ellipse cx="514.9" cy="391.4" rx="7.0" ry="8.8" transform="rotate(-30 514.9 391.4)" fill="url(#gB)"/>
<circle cx="529.2" cy="395.8" r="6.2" fill="url(#gY)"/>
<circle cx="520.8" cy="392.7" r="6.8" fill="url(#gY)"/>
<circle cx="520.8" cy="392.1" r="3.4" fill="url(#gC)"/>
<circle cx="533.8" cy="400.7" r="3.5" fill="url(#gC)"/>
<ellipse cx="487.9" cy="412.2" rx="7.4" ry="9.2" transform="rotate(30 487.9 412.2)" fill="url(#gB)"/>
<circle cx="501.5" cy="403.5" r="6.2" fill="url(#gY)"/>
<circle cx="493.5" cy="408.8" r="7.0" fill="url(#gY)"/>
<circle cx="493.9" cy="410.4" r="3.5" fill="url(#gC)"/>
<circle cx="506.9" cy="400.8" r="3.5" fill="url(#gC)"/>
<ellipse cx="408.3" cy="428.6" rx="7.0" ry="8.8" transform="rotate(-30 408.3 428.6)" fill="url(#gB)"/>
<circle cx="422.6" cy="433.0" r="6.2" fill="url(#gY)"/>
<circle cx="414.2" cy="429.9" r="6.8" fill="url(#gY)"/>
<circle cx="414.2" cy="429.3" r="3.4" fill="url(#gC)"/>
<circle cx="427.2" cy="437.9" r="3.5" fill="url(#gC)"/>
<ellipse cx="381.3" cy="449.4" rx="7.4" ry="9.2" transform="rotate(30 381.3 449.4)" fill="url(#gB)"/>
<circle cx="394.9" cy="440.7" r="6.2" fill="url(#gY)"/>
<circle cx="386.9" cy="446.0" r="7.0" fill="url(#gY)"/>
<circle cx="387.3" cy="447.6" r="3.5" fill="url(#gC)"/>
<circle cx="400.3" cy="438.0" r="3.5" fill="url(#gC)"/>
<ellipse cx="461.6" cy="428.6" rx="7.0" ry="8.8" transform="rotate(-30 461.6 428.6)" fill="url(#gB)"/>
<circle cx="475.9" cy="433.0" r="6.2" fill="url(#gY)"/>
<circle cx="467.5" cy="429.9" r="6.8" fill="url(#gY)"/>
<circle cx="467.5" cy="429.3" r="3.4" fill="url(#gC)"/>
<circle cx="480.5" cy="437.9" r="3.5" fill="url(#gC)"/>
<ellipse cx="434.6" cy="449.4" rx="7.4" ry="9.2" transform="rotate(30 434.6 449.4)" fill="url(#gB)"/>
<circle cx="448.2" cy="440.7" r="6.2" fill="url(#gY)"/>
<circle cx="440.2" cy="446.0" r="7.0" fill="url(#gY)"/>
<circle cx="440.6" cy="447.6" r="3.5" fill="url(#gC)"/>
<circle cx="453.6" cy="438.0" r="3.5" fill="url(#gC)"/>
<ellipse cx="514.9" cy="428.6" rx="7.0" ry="8.8" transform="rotate(-30 514.9 428.6)" fill="url(#gB)"/>
<circle cx="529.2" cy="433.0" r="6.2" fill="url(#gY)"/>
<circle cx="520.8" cy="429.9" r="6.8" fill="url(#gY)"/>
<circle cx="520.8" cy="429.3" r="3.4" fill="url(#gC)"/>
<circle cx="533.8" cy="437.9" r="3.5" fill="url(#gC)"/>
<ellipse cx="487.9" cy="449.4" rx="7.4" ry="9.2" transform="rotate(30 487.9 449.4)" fill="url(#gB)"/>
<circle cx="501.5" cy="440.7" r="6.2" fill="url(#gY)"/>
<circle cx="493.5" cy="446.0" r="7.0" fill="url(#gY)"/>
<circle cx="493.9" cy="447.6" r="3.5" fill="url(#gC)"/>
<circle cx="506.9" cy="438.0" r="3.5" fill="url(#gC)"/>
<ellipse cx="408.3" cy="465.8" rx="7.0" ry="8.8" transform="rotate(-30 408.3 465.8)" fill="url(#gB)"/>
<circle cx="422.6" cy="470.2" r="6.2" fill="url(#gY)"/>
<circle cx="414.2" cy="467.1" r="6.8" fill="url(#gY)"/>
<circle cx="414.2" cy="466.5" r="3.4" fill="url(#gC)"/>
<circle cx="427.2" cy="475.1" r="3.5" fill="url(#gC)"/>
<ellipse cx="381.3" cy="486.6" rx="7.4" ry="9.2" transform="rotate(30 381.3 486.6)" fill="url(#gB)"/>
<circle cx="394.9" cy="477.9" r="6.2" fill="url(#gY)"/>
<circle cx="386.9" cy="483.2" r="7.0" fill="url(#gY)"/>
<circle cx="387.3" cy="484.8" r="3.5" fill="url(#gC)"/>
<circle cx="400.3" cy="475.2" r="3.5" fill="url(#gC)"/>
<ellipse cx="461.6" cy="465.8" rx="7.0" ry="8.8" transform="rotate(-30 461.6 465.8)" fill="url(#gB)"/>
<circle cx="475.9" cy="470.2" r="6.2" fill="url(#gY)"/>
<circle cx="467.5" cy="467.1" r="6.8" fill="url(#gY)"/>
<circle cx="467.5" cy="466.5" r="3.4" fill="url(#gC)"/>
<circle cx="480.5" cy="475.1" r="3.5" fill="url(#gC)"/>
<ellipse cx="434.6" cy="486.6" rx="7.4" ry="9.2" transform="rotate(30 434.6 486.6)" fill="url(#gB)"/>
<circle cx="448.2" cy="477.9" r="6.2" fill="url(#gY)"/>
<circle cx="440.2" cy="483.2" r="7.0" fill="url(#gY)"/>
<circle cx="440.6" cy="484.8" r="3.5" fill="url(#gC)"/>
<circle cx="453.6" cy="475.2" r="3.5" fill="url(#gC)"/>
<ellipse cx="514.9" cy="465.8" rx="7.0" ry="8.8" transform="rotate(-30 514.9 465.8)" fill="url(#gB)"/>
<circle cx="529.2" cy="470.2" r="6.2" fill="url(#gY)"/>
<circle cx="520.8" cy="467.1" r="6.8" fill="url(#gY)"/>
<circle cx="520.8" cy="466.5" r="3.4" fill="url(#gC)"/>
<circle cx="533.8" cy="475.1" r="3.5" fill="url(#gC)"/>
<ellipse cx="487.9" cy="486.6" rx="7.4" ry="9.2" transform="rotate(30 487.9 486.6)" fill="url(#gB)"/>
<circle cx="501.5" cy="477.9" r="6.2" fill="url(#gY)"/>
<circle cx="493.5" cy="483.2" r="7.0" fill="url(#gY)"/>
<circle cx="493.9" cy="484.8" r="3.5" fill="url(#gC)"/>
<circle cx="506.9" cy="475.2" r="3.5" fill="url(#gC)"/>
<ellipse cx="408.3" cy="503.0" rx="7.0" ry="8.8" transform="rotate(-30 408.3 503.0)" fill="url(#gB)"/>
<circle cx="422.6" cy="507.4" r="6.2" fill="url(#gY)"/>
<circle cx="414.2" cy="504.3" r="6.8" fill="url(#gY)"/>
<circle cx="414.2" cy="503.7" r="3.4" fill="url(#gC)"/>
<circle cx="427.2" cy="512.3" r="3.5" fill="url(#gC)"/>
<ellipse cx="381.3" cy="523.8" rx="7.4" ry="9.2" transform="rotate(30 381.3 523.8)" fill="url(#gB)"/>
<circle cx="394.9" cy="515.1" r="6.2" fill="url(#gY)"/>
<circle cx="386.9" cy="520.4" r="7.0" fill="url(#gY)"/>
<circle cx="387.3" cy="522.0" r="3.5" fill="url(#gC)"/>
<circle cx="400.3" cy="512.4" r="3.5" fill="url(#gC)"/>
<ellipse cx="461.6" cy="503.0" rx="7.0" ry="8.8" transform="rotate(-30 461.6 503.0)" fill="url(#gB)"/>
<circle cx="475.9" cy="507.4" r="6.2" fill="url(#gY)"/>
<circle cx="467.5" cy="504.3" r="6.8" fill="url(#gY)"/>
<circle cx="467.5" cy="503.7" r="3.4" fill="url(#gC)"/>
<circle cx="480.5" cy="512.3" r="3.5" fill="url(#gC)"/>
<ellipse cx="434.6" cy="523.8" rx="7.4" ry="9.2" transform="rotate(30 434.6 523.8)" fill="url(#gB)"/>
<circle cx="448.2" cy="515.1" r="6.2" fill="url(#gY)"/>
<circle cx="440.2" cy="520.4" r="7.0" fill="url(#gY)"/>
<circle cx="440.6" cy="522.0" r="3.5" fill="url(#gC)"/>
<circle cx="453.6" cy="512.4" r="3.5" fill="url(#gC)"/>
<ellipse cx="514.9" cy="503.0" rx="7.0" ry="8.8" transform="rotate(-30 514.9 503.0)" fill="url(#gB)"/>
<circle cx="529.2" cy="507.4" r="6.2" fill="url(#gY)"/>
<circle cx="520.8" cy="504.3" r="6.8" fill="url(#gY)"/>
<circle cx="520.8" cy="503.7" r="3.4" fill="url(#gC)"/>
<circle cx="533.8" cy="512.3" r="3.5" fill="url(#gC)"/>
<ellipse cx="487.9" cy="523.8" rx="7.4" ry="9.2" transform="rotate(30 487.9 523.8)" fill="url(#gB)"/>
<circle cx="501.5" cy="515.1" r="6.2" fill="url(#gY)"/>
<circle cx="493.5" cy="520.4" r="7.0" fill="url(#gY)"/>
<circle cx="493.9" cy="522.0" r="3.5" fill="url(#gC)"/>
<circle cx="506.9" cy="512.4" r="3.5" fill="url(#gC)"/>
</g>
<rect x="421.6" y="422.2" width="99.0" height="98.5" fill="none" stroke="#222" stroke-width="0.9"/>
<text x="55.00" y="418.60" text-anchor="middle" style="font-family:'DejaVu Sans','Liberation Sans',sans-serif;font-size:7.8px" fill="#a8764e"><tspan dy="0.00" style="font-size:7.80px">Cu</tspan><tspan dy="1.56" style="font-size:5.30px">2</tspan><tspan dy="-1.56" style="font-size:7.80px">O(111)-w/o-Cu</tspan><tspan dy="-2.96" style="font-size:5.30px">CUS</tspan></text>
<text x="158.70" y="418.60" text-anchor="middle" style="font-family:'DejaVu Sans','Liberation Sans',sans-serif;font-size:7.8px" fill="#c8282c"><tspan dy="0.00" style="font-size:7.80px">Cu</tspan><tspan dy="1.56" style="font-size:5.30px">2</tspan><tspan dy="-1.56" style="font-size:7.80px">O(111)</tspan><tspan dy="1.56" style="font-size:5.30px">w/o</tspan><tspan dy="-1.56" style="font-size:7.80px">+1Cu</tspan><tspan dy="-2.96" style="font-size:5.30px">CUS</tspan><tspan dy="2.96" style="font-size:7.80px">-(2 × 2)</tspan></text>
<text x="263.20" y="418.60" text-anchor="middle" style="font-family:'DejaVu Sans','Liberation Sans',sans-serif;font-size:7.8px" fill="#6e7e2c"><tspan dy="0.00" style="font-size:7.80px">Cu</tspan><tspan dy="1.56" style="font-size:5.30px">2</tspan><tspan dy="-1.56" style="font-size:7.80px">O(111)</tspan></text>
<text x="366.80" y="418.60" text-anchor="middle" style="font-family:'DejaVu Sans','Liberation Sans',sans-serif;font-size:7.8px" fill="#b454d0"><tspan dy="0.00" style="font-size:7.80px">Cu</tspan><tspan dy="1.56" style="font-size:5.30px">2</tspan><tspan dy="-1.56" style="font-size:7.80px">O(111)-recon-(√3 × √3)R30°</tspan></text>
<text x="471.20" y="418.60" text-anchor="middle" style="font-family:'DejaVu Sans','Liberation Sans',sans-serif;font-size:7.8px" fill="#5a72c0"><tspan dy="0.00" style="font-size:7.80px">Cu</tspan><tspan dy="1.56" style="font-size:5.30px">2</tspan><tspan dy="-1.56" style="font-size:7.80px">O(110):CuO</tspan></text>
<rect x="12.6" y="525.6" width="84.9" height="19.9" fill="#fdd98c"/>
<text x="55.05" y="538.35" text-anchor="middle" style="font-family:'DejaVu Sans','Liberation Sans',sans-serif;font-size:8.1px" fill="#222"><tspan dy="0.00" style="font-size:8.10px">(1×1)-MolH @ Cu</tspan><tspan dy="-3.08" style="font-size:5.51px">CSA</tspan></text>
<rect x="117.2" y="525.0" width="82.6" height="20.2" fill="#e68f8f"/>
<text x="163.40" y="532.80" text-anchor="middle" style="font-family:'DejaVu Sans','Liberation Sans',sans-serif;font-size:7.7px" fill="#222"><tspan dy="0.00" style="font-size:7.70px">3MolH @ Cu</tspan><tspan dy="-2.93" style="font-size:5.24px">CSA</tspan></text>
<text x="158.50" y="543.00" text-anchor="middle" style="font-family:'DejaVu Sans','Liberation Sans',sans-serif;font-size:7.7px" fill="#222"><tspan dy="0.00" style="font-size:7.70px">&amp; 1MolH @ Cu</tspan><tspan dy="-2.93" style="font-size:5.24px">CUS</tspan></text>
<rect x="220.8" y="525.0" width="84.5" height="20.4" fill="#d4e4a2"/>
<text x="263.05" y="538.00" text-anchor="middle" style="font-family:'DejaVu Sans','Liberation Sans',sans-serif;font-size:8.1px" fill="#222"><tspan dy="0.00" style="font-size:8.10px">(1×1)-MolH @ Cu</tspan><tspan dy="-3.08" style="font-size:5.51px">CUS</tspan></text>
<rect x="320.3" y="525.0" width="93.7" height="21.0" fill="#eeaaf0"/>
<text x="367.15" y="533.30" text-anchor="middle" style="font-family:'DejaVu Sans','Liberation Sans',sans-serif;font-size:7.7px" fill="#222"><tspan dy="0.00" style="font-size:7.70px">H+Mol @ Cu</tspan><tspan dy="-2.93" style="font-size:5.24px">Ovac</tspan></text>
<text x="367.15" y="543.00" text-anchor="middle" style="font-family:'DejaVu Sans','Liberation Sans',sans-serif;font-size:7.7px" fill="#222"><tspan dy="0.00" style="font-size:7.70px">&amp; 2MolH </tspan><tspan dy="0.00" style="font-size:7.70px;font-style:italic">via</tspan><tspan dy="0.00" style="font-size:7.70px"> N1H···O</tspan><tspan dy="-2.93" style="font-size:5.24px">up</tspan></text>
<rect x="424.0" y="525.8" width="94.5" height="18.5" fill="#aac7f2"/>
<text x="471.25" y="537.85" text-anchor="middle" style="font-family:'DejaVu Sans','Liberation Sans',sans-serif;font-size:8.1px" fill="#222"><tspan dy="0.00" style="font-size:8.10px">(2×1)-2MolH @ Cu</tspan><tspan dy="-3.08" style="font-size:5.51px">surf</tspan></text>
<text x="261.30" y="30.60" text-anchor="start" style="font-family:'DejaVu Sans','Liberation Sans',sans-serif;font-size:7.0px" fill="#6e8234"><tspan dy="0.00" style="font-size:7.00px">Cu</tspan><tspan dy="1.40" style="font-size:4.76px">2</tspan><tspan dy="-1.40" style="font-size:7.00px">O(111)r</tspan></text>
<text x="224.80" y="41.40" transform="rotate(5.250272729733048 224.80 41.40)" text-anchor="start" style="font-family:'DejaVu Sans','Liberation Sans',sans-serif;font-size:7.0px;font-style:italic" fill="#a656d2"><tspan dy="0.00" style="font-size:7.00px">Cu</tspan><tspan dy="1.40" style="font-size:4.76px">2</tspan><tspan dy="-1.40" style="font-size:7.00px">O(111)-recon-(√3 × √3)R30°</tspan></text>
<text x="247.30" y="51.00" transform="rotate(12.339087278326195 247.30 51.00)" text-anchor="start" style="font-family:'DejaVu Sans','Liberation Sans',sans-serif;font-size:7.0px;font-style:italic" fill="#d8603c"><tspan dy="0.00" style="font-size:7.00px">Cu</tspan><tspan dy="1.40" style="font-size:4.76px">2</tspan><tspan dy="-1.40" style="font-size:7.00px">O(111)</tspan><tspan dy="1.40" style="font-size:4.76px">w/o</tspan><tspan dy="-1.40" style="font-size:7.00px">+1Cu</tspan><tspan dy="-2.66" style="font-size:4.76px">CUS</tspan><tspan dy="2.66" style="font-size:7.00px">-(2 × 2)</tspan></text>
<text x="215.00" y="58.00" transform="rotate(15.582363766310998 215.00 58.00)" text-anchor="start" style="font-family:'DejaVu Sans','Liberation Sans',sans-serif;font-size:7.0px;font-style:italic" fill="#8a5a3a"><tspan dy="0.00" style="font-size:7.00px">Cu</tspan><tspan dy="1.40" style="font-size:4.76px">2</tspan><tspan dy="-1.40" style="font-size:7.00px">O(111)-w/o-Cu</tspan><tspan dy="-2.66" style="font-size:4.76px">CUS</tspan></text>
<text x="292.40" y="83.40" transform="rotate(17.87869659584133 292.40 83.40)" text-anchor="start" style="font-family:'DejaVu Sans','Liberation Sans',sans-serif;font-size:6.8px;font-style:italic" fill="#3a64c0"><tspan dy="0.00" style="font-size:6.80px">Cu</tspan><tspan dy="1.36" style="font-size:4.62px">2</tspan><tspan dy="-1.36" style="font-size:6.80px">O(110):CuO</tspan></text>
<text x="53.30" y="164.60" transform="rotate(11.941752688637669 53.30 164.60)" text-anchor="start" style="font-family:'DejaVu Sans','Liberation Sans',sans-serif;font-size:6.7px" fill="#cc9448"><tspan dy="0.00" style="font-size:6.70px">ImiH @ Cu</tspan><tspan dy="-2.55" style="font-size:4.56px">CSA</tspan></text>
<text x="107.70" y="176.30" transform="rotate(4.44410612165269 107.70 176.30)" text-anchor="start" style="font-family:'DejaVu Sans','Liberation Sans',sans-serif;font-size:6.7px" fill="#b46cd8"><tspan dy="0.00" style="font-size:6.70px">2ImiH @ Cu</tspan><tspan dy="-2.55" style="font-size:4.56px">Ovac</tspan><tspan dy="2.55" style="font-size:6.70px"> &amp; 1ImiH</tspan></text>
<text x="54.90" y="199.40" text-anchor="start" style="font-family:'DejaVu Sans','Liberation Sans',sans-serif;font-size:6.9px" fill="#3ea03a"><tspan dy="0.00" style="font-size:6.90px">ImiH @ Cu</tspan><tspan dy="-2.62" style="font-size:4.69px">CUS</tspan></text>
<text x="140.30" y="211.10" transform="rotate(15.083059822329872 140.30 211.10)" text-anchor="start" style="font-family:'DejaVu Sans','Liberation Sans',sans-serif;font-size:6.7px" fill="#6694de"><tspan dy="0.00" style="font-size:6.70px">ImiH @ Cu</tspan><tspan dy="-2.55" style="font-size:4.56px">surf</tspan></text>
<text x="77.90" y="211.30" text-anchor="start" style="font-family:'DejaVu Sans','Liberation Sans',sans-serif;font-size:6.6px" fill="#c42a30"><tspan dy="0.00" style="font-size:6.60px">3ImiH @ Cu</tspan><tspan dy="-2.51" style="font-size:4.49px">CSA</tspan></text>
<text x="75.80" y="219.70" text-anchor="start" style="font-family:'DejaVu Sans','Liberation Sans',sans-serif;font-size:6.6px" fill="#c42a30"><tspan dy="0.00" style="font-size:6.60px">&amp; 1ImiH @ Cu</tspan><tspan dy="-2.51" style="font-size:4.49px">CUS</tspan></text>
<text x="215.00" y="168.80" transform="rotate(14.975984514756677 215.00 168.80)" text-anchor="start" style="font-family:'DejaVu Sans','Liberation Sans',sans-serif;font-size:6.7px;font-style:italic" fill="#cc9448"><tspan dy="0.00" style="font-size:6.70px">TriH @ Cu</tspan><tspan dy="-2.55" style="font-size:4.56px">CSA</tspan></text>
<text x="269.70" y="184.00" transform="rotate(5.811618336732659 269.70 184.00)" text-anchor="start" style="font-family:'DejaVu Sans','Liberation Sans',sans-serif;font-size:6.7px" fill="#b46cd8"><tspan dy="0.00" style="font-size:6.70px">H+Tri @ Cu</tspan><tspan dy="-2.55" style="font-size:4.56px">Ovac</tspan><tspan dy="2.55" style="font-size:6.70px"> &amp; 2TriH</tspan></text>
<text x="214.20" y="216.80" text-anchor="start" style="font-family:'DejaVu Sans','Liberation Sans',sans-serif;font-size:6.9px" fill="#3ea03a"><tspan dy="0.00" style="font-size:6.90px">TriH @ Cu</tspan><tspan dy="-2.62" style="font-size:4.69px">CUS</tspan></text>
<text x="291.00" y="227.70" transform="rotate(15.907551930525852 291.00 227.70)" text-anchor="start" style="font-family:'DejaVu Sans','Liberation Sans',sans-serif;font-size:6.7px;font-style:italic" fill="#6694de"><tspan dy="0.00" style="font-size:6.70px">TriH @ Cu</tspan><tspan dy="-2.55" style="font-size:4.56px">surf</tspan></text>
<text x="240.30" y="200.20" transform="rotate(13.401161866721978 240.30 200.20)" text-anchor="start" style="font-family:'DejaVu Sans','Liberation Sans',sans-serif;font-size:6.7px;font-style:italic" fill="#c42a30"><tspan dy="0.00" style="font-size:6.70px">3TriH @ Cu</tspan><tspan dy="-2.55" style="font-size:4.56px">CSA</tspan><tspan dy="2.55" style="font-size:6.70px"> &amp; 1TriH @ Cu</tspan><tspan dy="-2.55" style="font-size:4.56px">CUS</tspan></text>
<text x="378.10" y="173.30" transform="rotate(12.275785793778901 378.10 173.30)" text-anchor="start" style="font-family:'DejaVu Sans','Liberation Sans',sans-serif;font-size:6.7px;font-style:italic" fill="#cc9448"><tspan dy="0.00" style="font-size:6.70px">TetH @ Cu</tspan><tspan dy="-2.55" style="font-size:4.56px">CSA</tspan></text>
<text x="434.10" y="183.50" transform="rotate(6.125720815432709 434.10 183.50)" text-anchor="start" style="font-family:'DejaVu Sans','Liberation Sans',sans-serif;font-size:6.7px" fill="#b46cd8"><tspan dy="0.00" style="font-size:6.70px">H+Tet @ Cu</tspan><tspan dy="-2.55" style="font-size:4.56px">Ovac</tspan><tspan dy="2.55" style="font-size:6.70px"> &amp; 2TetH</tspan></text>
<text x="380.00" y="218.70" text-anchor="start" style="font-family:'DejaVu Sans','Liberation Sans',sans-serif;font-size:6.9px" fill="#3ea03a"><tspan dy="0.00" style="font-size:6.90px">TetH @ Cu</tspan><tspan dy="-2.62" style="font-size:4.69px">CUS</tspan></text>
<text x="461.30" y="229.80" transform="rotate(17.74467162505695 461.30 229.80)" text-anchor="start" style="font-family:'DejaVu Sans','Liberation Sans',sans-serif;font-size:6.7px;font-style:italic" fill="#6694de"><tspan dy="0.00" style="font-size:6.70px">TetH @ Cu</tspan><tspan dy="-2.55" style="font-size:4.56px">surf</tspan></text>
<text x="404.00" y="202.80" transform="rotate(11.449337988500025 404.00 202.80)" text-anchor="start" style="font-family:'DejaVu Sans','Liberation Sans',sans-serif;font-size:6.7px;font-style:italic" fill="#c42a30"><tspan dy="0.00" style="font-size:6.70px">3TetH @ Cu</tspan><tspan dy="-2.55" style="font-size:4.56px">CSA</tspan><tspan dy="2.55" style="font-size:6.70px"> &amp; 1TetH @ Cu</tspan><tspan dy="-2.55" style="font-size:4.56px">CUS</tspan></text>
<text x="50.70" y="303.70" transform="rotate(8.38061322292769 50.70 303.70)" text-anchor="start" style="font-family:'DejaVu Sans','Liberation Sans',sans-serif;font-size:6.7px" fill="#cc9448"><tspan dy="0.00" style="font-size:6.70px">ImiH @ Cu</tspan><tspan dy="-2.55" style="font-size:4.56px">CSA</tspan></text>
<text x="106.70" y="312.20" transform="rotate(4.437723780386277 106.70 312.20)" text-anchor="start" style="font-family:'DejaVu Sans','Liberation Sans',sans-serif;font-size:6.7px" fill="#b46cd8"><tspan dy="0.00" style="font-size:6.70px">2ImiH @ Cu</tspan><tspan dy="-2.55" style="font-size:4.56px">Ovac</tspan><tspan dy="2.55" style="font-size:6.70px"> &amp; 1ImiH</tspan></text>
<text x="50.70" y="333.50" text-anchor="start" style="font-family:'DejaVu Sans','Liberation Sans',sans-serif;font-size:6.9px" fill="#3ea03a"><tspan dy="0.00" style="font-size:6.90px">ImiH @ Cu</tspan><tspan dy="-2.62" style="font-size:4.69px">CUS</tspan></text>
<text x="140.00" y="350.30" transform="rotate(11.996899307923579 140.00 350.30)" text-anchor="start" style="font-family:'DejaVu Sans','Liberation Sans',sans-serif;font-size:6.7px" fill="#6694de"><tspan dy="0.00" style="font-size:6.70px">ImiH @ Cu</tspan><tspan dy="-2.55" style="font-size:4.56px">surf</tspan></text>
<text x="80.50" y="342.30" text-anchor="start" style="font-family:'DejaVu Sans','Liberation Sans',sans-serif;font-size:6.6px" fill="#c42a30"><tspan dy="0.00" style="font-size:6.60px">3ImiH @ Cu</tspan><tspan dy="-2.51" style="font-size:4.49px">CSA</tspan></text>
<text x="78.70" y="350.30" text-anchor="start" style="font-family:'DejaVu Sans','Liberation Sans',sans-serif;font-size:6.6px" fill="#c42a30"><tspan dy="0.00" style="font-size:6.60px">&amp; 1ImiH @ Cu</tspan><tspan dy="-2.51" style="font-size:4.49px">CUS</tspan></text>
<text x="227.00" y="314.30" transform="rotate(12.822253437920907 227.00 314.30)" text-anchor="start" style="font-family:'DejaVu Sans','Liberation Sans',sans-serif;font-size:6.7px;font-style:italic" fill="#cc9448"><tspan dy="0.00" style="font-size:6.70px">TriH @ Cu</tspan><tspan dy="-2.55" style="font-size:4.56px">CSA</tspan></text>
<text x="269.70" y="309.00" transform="rotate(6.172122473844475 269.70 309.00)" text-anchor="start" style="font-family:'DejaVu Sans','Liberation Sans',sans-serif;font-size:6.7px" fill="#b46cd8"><tspan dy="0.00" style="font-size:6.70px">H+Tri @ Cu</tspan><tspan dy="-2.55" style="font-size:4.56px">Ovac</tspan><tspan dy="2.55" style="font-size:6.70px"> &amp; 2TriH</tspan></text>
<text x="214.20" y="347.70" text-anchor="start" style="font-family:'DejaVu Sans','Liberation Sans',sans-serif;font-size:6.9px" fill="#3ea03a"><tspan dy="0.00" style="font-size:6.90px">TriH @ Cu</tspan><tspan dy="-2.62" style="font-size:4.69px">CUS</tspan></text>
<text x="303.00" y="368.10" transform="rotate(18.034285567129817 303.00 368.10)" text-anchor="start" style="font-family:'DejaVu Sans','Liberation Sans',sans-serif;font-size:6.7px;font-style:italic" fill="#6694de"><tspan dy="0.00" style="font-size:6.70px">TriH @ Cu</tspan><tspan dy="-2.55" style="font-size:4.56px">surf</tspan></text>
<text x="249.70" y="338.50" transform="rotate(11.61535624378515 249.70 338.50)" text-anchor="start" style="font-family:'DejaVu Sans','Liberation Sans',sans-serif;font-size:6.7px;font-style:italic" fill="#c42a30"><tspan dy="0.00" style="font-size:6.70px">3TriH @ Cu</tspan><tspan dy="-2.55" style="font-size:4.56px">CSA</tspan><tspan dy="2.55" style="font-size:6.70px"> &amp; 1TriH @ Cu</tspan><tspan dy="-2.55" style="font-size:4.56px">CUS</tspan></text>
<text x="376.50" y="302.30" transform="rotate(10.236542372953679 376.50 302.30)" text-anchor="start" style="font-family:'DejaVu Sans','Liberation Sans',sans-serif;font-size:6.7px;font-style:italic" fill="#cc9448"><tspan dy="0.00" style="font-size:6.70px">TetH @ Cu</tspan><tspan dy="-2.55" style="font-size:4.56px">CSA</tspan></text>
<text x="432.00" y="309.50" transform="rotate(6.0739139812874505 432.00 309.50)" text-anchor="start" style="font-family:'DejaVu Sans','Liberation Sans',sans-serif;font-size:6.7px" fill="#b46cd8"><tspan dy="0.00" style="font-size:6.70px">H+Tet @ Cu</tspan><tspan dy="-2.55" style="font-size:4.56px">Ovac</tspan><tspan dy="2.55" style="font-size:6.70px"> &amp; 2TetH</tspan></text>
<text x="378.10" y="348.50" text-anchor="start" style="font-family:'DejaVu Sans','Liberation Sans',sans-serif;font-size:6.9px" fill="#3ea03a"><tspan dy="0.00" style="font-size:6.90px">TetH @ Cu</tspan><tspan dy="-2.62" style="font-size:4.69px">CUS</tspan></text>
<text x="463.50" y="366.80" transform="rotate(17.02564084938799 463.50 366.80)" text-anchor="start" style="font-family:'DejaVu Sans','Liberation Sans',sans-serif;font-size:6.7px;font-style:italic" fill="#6694de"><tspan dy="0.00" style="font-size:6.70px">TetH @ Cu</tspan><tspan dy="-2.55" style="font-size:4.56px">surf</tspan></text>
<text x="395.20" y="329.20" transform="rotate(11.628947994247113 395.20 329.20)" text-anchor="start" style="font-family:'DejaVu Sans','Liberation Sans',sans-serif;font-size:6.7px;font-style:italic" fill="#c42a30"><tspan dy="0.00" style="font-size:6.70px">3TetH @ Cu</tspan><tspan dy="-2.55" style="font-size:4.56px">CSA</tspan><tspan dy="2.55" style="font-size:6.70px"> &amp; 1TetH @ Cu</tspan><tspan dy="-2.55" style="font-size:4.56px">CUS</tspan></text>
<path d="M119.5,194.2 Q117,201.5 107,204.6" fill="none" stroke="#b01818" stroke-width="1.1"/>
<path d="M103.4,205.8 L108.6,201.8 L108.4,207.0 Z" fill="#b01818"/>
</svg></body></html>
